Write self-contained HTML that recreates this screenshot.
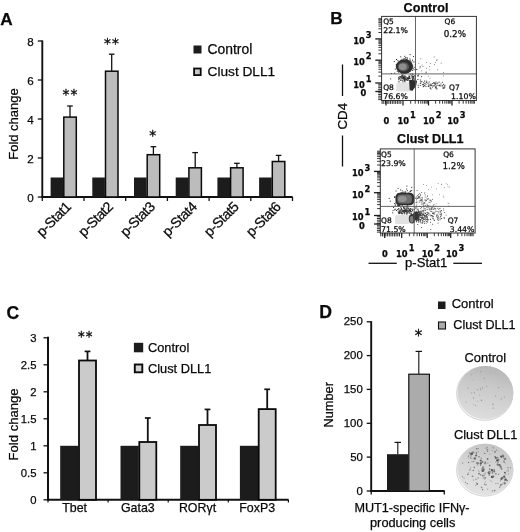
<!DOCTYPE html>
<html><head><meta charset="utf-8"><title>Figure</title>
<style>
html,body{margin:0;padding:0;background:#fff;}
body{width:520px;height:532px;overflow:hidden;}
svg{display:block;}
text{font-family:"Liberation Sans",sans-serif;fill:#0a0a0a;stroke:#0a0a0a;stroke-width:0.25px;}
.ast{font-family:"DejaVu Sans",sans-serif;stroke-width:0.3px;letter-spacing:1px;}
.dj{font-family:"DejaVu Sans",sans-serif;}
.djb{font-family:"DejaVu Sans",sans-serif;font-weight:bold;}
.b{font-weight:bold;}
</style></head><body>
<svg width="520" height="532" viewBox="0 0 520 532">
<defs>
<linearGradient id="well1" x1="0.6" y1="0" x2="0.35" y2="1">
<stop offset="0" stop-color="#b6b6b6"/><stop offset="0.35" stop-color="#c8c8c8"/><stop offset="0.7" stop-color="#d4d4d4"/><stop offset="1" stop-color="#dedede"/>
</linearGradient>
<linearGradient id="well2" x1="0.6" y1="0" x2="0.35" y2="1">
<stop offset="0" stop-color="#c4c4c4"/><stop offset="0.35" stop-color="#d2d2d2"/><stop offset="0.7" stop-color="#dcdcdc"/><stop offset="1" stop-color="#e2e2e2"/>
</linearGradient>
<filter id="bl4" x="-5%" y="-5%" width="110%" height="110%"><feGaussianBlur stdDeviation="0.4"/></filter>
<filter id="bl3" x="-5%" y="-5%" width="110%" height="110%"><feGaussianBlur stdDeviation="0.35"/></filter>
<filter id="bl" x="-20%" y="-20%" width="140%" height="140%"><feGaussianBlur stdDeviation="0.5"/></filter>
<filter id="bl2" x="-20%" y="-20%" width="140%" height="140%"><feGaussianBlur stdDeviation="1.2"/></filter>
</defs>
<rect width="520" height="532" fill="#fff"/>

<g id="panelA">
<text x="0.3" y="24.8" font-size="17.2" text-anchor="start" class="b" stroke-width="0.4">A</text>
<line x1="42.3" y1="40.4" x2="42.3" y2="197.9" stroke="#111" stroke-width="1.9"/>
<line x1="41.4" y1="197.0" x2="292.6" y2="197.0" stroke="#111" stroke-width="1.9"/>
<line x1="37.8" y1="197.0" x2="42.3" y2="197.0" stroke="#111" stroke-width="1.3"/>
<text x="33.7" y="201.6" font-size="11.6" text-anchor="end">0</text>
<line x1="37.8" y1="158.0" x2="42.3" y2="158.0" stroke="#111" stroke-width="1.3"/>
<text x="33.7" y="162.6" font-size="11.6" text-anchor="end">2</text>
<line x1="37.8" y1="119.0" x2="42.3" y2="119.0" stroke="#111" stroke-width="1.3"/>
<text x="33.7" y="123.6" font-size="11.6" text-anchor="end">4</text>
<line x1="37.8" y1="80.0" x2="42.3" y2="80.0" stroke="#111" stroke-width="1.3"/>
<text x="33.7" y="84.6" font-size="11.6" text-anchor="end">6</text>
<line x1="37.8" y1="41.0" x2="42.3" y2="41.0" stroke="#111" stroke-width="1.3"/>
<text x="33.7" y="45.6" font-size="11.6" text-anchor="end">8</text>
<line x1="42.3" y1="197.0" x2="42.3" y2="201.0" stroke="#111" stroke-width="1.3"/>
<line x1="84.0" y1="197.0" x2="84.0" y2="201.0" stroke="#111" stroke-width="1.3"/>
<line x1="125.7" y1="197.0" x2="125.7" y2="201.0" stroke="#111" stroke-width="1.3"/>
<line x1="167.4" y1="197.0" x2="167.4" y2="201.0" stroke="#111" stroke-width="1.3"/>
<line x1="209.1" y1="197.0" x2="209.1" y2="201.0" stroke="#111" stroke-width="1.3"/>
<line x1="250.8" y1="197.0" x2="250.8" y2="201.0" stroke="#111" stroke-width="1.3"/>
<line x1="292.5" y1="197.0" x2="292.5" y2="201.0" stroke="#111" stroke-width="1.3"/>
<rect x="50.6" y="177.5" width="12.6" height="19.5" fill="#1c1c1c"/>
<rect x="63.8" y="117.1" width="12.5" height="79.9" fill="#bcbcbc" stroke="#0a0a0a" stroke-width="1.5"/>
<line x1="70.0" y1="117.1" x2="70.0" y2="106.0" stroke="#111" stroke-width="1.3"/>
<line x1="67.2" y1="106.0" x2="72.8" y2="106.0" stroke="#111" stroke-width="1.3"/>
<text transform="translate(71.8,207.8) rotate(-45)" font-size="14.1" letter-spacing="-0.5" text-anchor="end" stroke-width="0.3">p-Stat1</text>
<rect x="92.3" y="177.5" width="12.6" height="19.5" fill="#1c1c1c"/>
<rect x="105.5" y="71.2" width="12.5" height="125.8" fill="#bcbcbc" stroke="#0a0a0a" stroke-width="1.5"/>
<line x1="111.7" y1="71.2" x2="111.7" y2="54.2" stroke="#111" stroke-width="1.3"/>
<line x1="108.9" y1="54.2" x2="114.5" y2="54.2" stroke="#111" stroke-width="1.3"/>
<text transform="translate(113.7,207.8) rotate(-45)" font-size="14.1" letter-spacing="-0.5" text-anchor="end" stroke-width="0.3">p-Stat2</text>
<rect x="134.0" y="177.5" width="12.6" height="19.5" fill="#1c1c1c"/>
<rect x="147.2" y="154.7" width="12.5" height="42.3" fill="#bcbcbc" stroke="#0a0a0a" stroke-width="1.5"/>
<line x1="153.4" y1="154.7" x2="153.4" y2="146.7" stroke="#111" stroke-width="1.3"/>
<line x1="150.6" y1="146.7" x2="156.2" y2="146.7" stroke="#111" stroke-width="1.3"/>
<text transform="translate(155.6,207.8) rotate(-45)" font-size="14.1" letter-spacing="-0.5" text-anchor="end" stroke-width="0.3">p-Stat3</text>
<rect x="175.7" y="177.5" width="12.6" height="19.5" fill="#1c1c1c"/>
<rect x="188.9" y="167.8" width="12.5" height="29.2" fill="#bcbcbc" stroke="#0a0a0a" stroke-width="1.5"/>
<line x1="195.2" y1="167.8" x2="195.2" y2="152.6" stroke="#111" stroke-width="1.3"/>
<line x1="192.3" y1="152.6" x2="198.0" y2="152.6" stroke="#111" stroke-width="1.3"/>
<text transform="translate(197.6,207.8) rotate(-45)" font-size="14.1" letter-spacing="-0.5" text-anchor="end" stroke-width="0.3">p-Stat4</text>
<rect x="217.4" y="177.5" width="12.6" height="19.5" fill="#1c1c1c"/>
<rect x="230.6" y="167.8" width="12.5" height="29.2" fill="#bcbcbc" stroke="#0a0a0a" stroke-width="1.5"/>
<line x1="236.9" y1="167.8" x2="236.9" y2="163.3" stroke="#111" stroke-width="1.3"/>
<line x1="234.1" y1="163.3" x2="239.7" y2="163.3" stroke="#111" stroke-width="1.3"/>
<text transform="translate(239.5,207.8) rotate(-45)" font-size="14.1" letter-spacing="-0.5" text-anchor="end" stroke-width="0.3">p-Stat5</text>
<rect x="259.1" y="177.5" width="12.6" height="19.5" fill="#1c1c1c"/>
<rect x="272.3" y="161.5" width="12.5" height="35.5" fill="#bcbcbc" stroke="#0a0a0a" stroke-width="1.5"/>
<line x1="278.6" y1="161.5" x2="278.6" y2="155.4" stroke="#111" stroke-width="1.3"/>
<line x1="275.8" y1="155.4" x2="281.4" y2="155.4" stroke="#111" stroke-width="1.3"/>
<text transform="translate(281.5,207.8) rotate(-45)" font-size="14.1" letter-spacing="-0.5" text-anchor="end" stroke-width="0.3">p-Stat6</text>
<text x="70.4" y="98.9" font-size="13.8" text-anchor="middle" class="ast">**</text>
<text x="111.9" y="48.4" font-size="13.8" text-anchor="middle" class="ast">**</text>
<text x="153.3" y="139.6" font-size="13.8" text-anchor="middle" class="ast">*</text>
<text transform="translate(18.3,124) rotate(-90)" font-size="13" text-anchor="middle">Fold change</text>
<rect x="193.5" y="45.5" width="8.0" height="8.0" fill="#1c1c1c"/>
<text x="207.5" y="54.1" font-size="13.9" text-anchor="start">Control</text>
<rect x="194.1" y="68.5" width="6.6" height="6.6" fill="#c8c8c8" stroke="#0a0a0a" stroke-width="1.8"/>
<text x="207.5" y="76.4" font-size="13.7" text-anchor="start">Clust DLL1</text>
</g>
<g id="panelC">
<text x="6.5" y="318.5" font-size="17.6" text-anchor="start" class="b" stroke-width="0.4">C</text>
<line x1="48.0" y1="336.8" x2="48.0" y2="500.8" stroke="#111" stroke-width="2.0"/>
<line x1="47.0" y1="499.8" x2="288.6" y2="499.8" stroke="#111" stroke-width="2.0"/>
<line x1="43.5" y1="499.8" x2="48.0" y2="499.8" stroke="#111" stroke-width="1.3"/>
<text x="36.5" y="503.8" font-size="11.3" text-anchor="end">0</text>
<line x1="43.5" y1="472.8" x2="48.0" y2="472.8" stroke="#111" stroke-width="1.3"/>
<text x="36.5" y="476.8" font-size="11.3" text-anchor="end">0.5</text>
<line x1="43.5" y1="445.8" x2="48.0" y2="445.8" stroke="#111" stroke-width="1.3"/>
<text x="36.5" y="449.8" font-size="11.3" text-anchor="end">1</text>
<line x1="43.5" y1="418.8" x2="48.0" y2="418.8" stroke="#111" stroke-width="1.3"/>
<text x="36.5" y="422.8" font-size="11.3" text-anchor="end">1.5</text>
<line x1="43.5" y1="391.8" x2="48.0" y2="391.8" stroke="#111" stroke-width="1.3"/>
<text x="36.5" y="395.8" font-size="11.3" text-anchor="end">2</text>
<line x1="43.5" y1="364.8" x2="48.0" y2="364.8" stroke="#111" stroke-width="1.3"/>
<text x="36.5" y="368.8" font-size="11.3" text-anchor="end">2.5</text>
<line x1="43.5" y1="337.8" x2="48.0" y2="337.8" stroke="#111" stroke-width="1.3"/>
<text x="36.5" y="341.8" font-size="11.3" text-anchor="end">3</text>
<line x1="48.0" y1="499.8" x2="48.0" y2="502.6" stroke="#111" stroke-width="1.2"/>
<line x1="108.1" y1="499.8" x2="108.1" y2="502.6" stroke="#111" stroke-width="1.2"/>
<line x1="168.2" y1="499.8" x2="168.2" y2="502.6" stroke="#111" stroke-width="1.2"/>
<line x1="228.3" y1="499.8" x2="228.3" y2="502.6" stroke="#111" stroke-width="1.2"/>
<line x1="288.4" y1="499.8" x2="288.4" y2="502.6" stroke="#111" stroke-width="1.2"/>
<rect x="60.2" y="445.8" width="18.2" height="54.0" fill="#1c1c1c"/>
<rect x="79.0" y="360.5" width="17.0" height="139.3" fill="#cbcbcb" stroke="#0a0a0a" stroke-width="1.8"/>
<line x1="87.5" y1="360.5" x2="87.5" y2="351.4" stroke="#111" stroke-width="1.8"/>
<line x1="84.6" y1="351.4" x2="90.4" y2="351.4" stroke="#111" stroke-width="1.7"/>
<text x="74.6" y="512.2" font-size="12.4" text-anchor="middle">Tbet</text>
<rect x="120.5" y="445.8" width="18.2" height="54.0" fill="#1c1c1c"/>
<rect x="139.3" y="442.0" width="17.0" height="57.8" fill="#cbcbcb" stroke="#0a0a0a" stroke-width="1.8"/>
<line x1="147.8" y1="442.0" x2="147.8" y2="418.0" stroke="#111" stroke-width="1.8"/>
<line x1="144.9" y1="418.0" x2="150.7" y2="418.0" stroke="#111" stroke-width="1.7"/>
<text x="137.8" y="512.2" font-size="12.4" text-anchor="middle">Gata3</text>
<rect x="180.2" y="445.8" width="18.2" height="54.0" fill="#1c1c1c"/>
<rect x="199.0" y="425.0" width="17.0" height="74.8" fill="#cbcbcb" stroke="#0a0a0a" stroke-width="1.8"/>
<line x1="207.5" y1="425.0" x2="207.5" y2="409.4" stroke="#111" stroke-width="1.8"/>
<line x1="204.6" y1="409.4" x2="210.4" y2="409.4" stroke="#111" stroke-width="1.7"/>
<text x="197.5" y="512.2" font-size="12.4" text-anchor="middle">RORγt</text>
<rect x="239.9" y="445.8" width="18.2" height="54.0" fill="#1c1c1c"/>
<rect x="258.7" y="409.1" width="17.0" height="90.7" fill="#cbcbcb" stroke="#0a0a0a" stroke-width="1.8"/>
<line x1="267.2" y1="409.1" x2="267.2" y2="389.3" stroke="#111" stroke-width="1.8"/>
<line x1="264.3" y1="389.3" x2="270.1" y2="389.3" stroke="#111" stroke-width="1.7"/>
<text x="257.2" y="512.2" font-size="12.4" text-anchor="middle">FoxP3</text>
<text x="85.8" y="341.4" font-size="13.4" text-anchor="middle" class="ast">**</text>
<text transform="translate(17.8,424.4) rotate(-90)" font-size="13.1" text-anchor="middle">Fold change</text>
<rect x="133.9" y="342.8" width="9.3" height="9.5" fill="#1c1c1c"/>
<text x="148.0" y="352.3" font-size="12.8" text-anchor="start">Control</text>
<rect x="134.8" y="364.5" width="7.5" height="7.8" fill="#d4d4d4" stroke="#0a0a0a" stroke-width="1.9"/>
<text x="148.0" y="373.4" font-size="12.8" text-anchor="start">Clust DLL1</text>
</g>
<g id="panelD">
<text x="319.2" y="318.3" font-size="17.6" text-anchor="start" class="b" stroke-width="0.4">D</text>
<line x1="371.2" y1="321.2" x2="371.2" y2="491.9" stroke="#111" stroke-width="1.9"/>
<line x1="370.3" y1="491.0" x2="444.7" y2="491.0" stroke="#111" stroke-width="1.9"/>
<line x1="366.7" y1="491.0" x2="371.2" y2="491.0" stroke="#111" stroke-width="1.3"/>
<text x="362.8" y="494.7" font-size="11.4" text-anchor="end">0</text>
<line x1="366.7" y1="457.1" x2="371.2" y2="457.1" stroke="#111" stroke-width="1.3"/>
<text x="362.8" y="460.8" font-size="11.4" text-anchor="end">50</text>
<line x1="366.7" y1="423.3" x2="371.2" y2="423.3" stroke="#111" stroke-width="1.3"/>
<text x="362.8" y="427.0" font-size="11.4" text-anchor="end">100</text>
<line x1="366.7" y1="389.4" x2="371.2" y2="389.4" stroke="#111" stroke-width="1.3"/>
<text x="362.8" y="393.1" font-size="11.4" text-anchor="end">150</text>
<line x1="366.7" y1="355.6" x2="371.2" y2="355.6" stroke="#111" stroke-width="1.3"/>
<text x="362.8" y="359.3" font-size="11.4" text-anchor="end">200</text>
<line x1="366.7" y1="321.8" x2="371.2" y2="321.8" stroke="#111" stroke-width="1.3"/>
<text x="362.8" y="325.4" font-size="11.4" text-anchor="end">250</text>
<line x1="444.3" y1="491.0" x2="444.3" y2="494.5" stroke="#111" stroke-width="1.3"/>
<line x1="371.2" y1="491.0" x2="371.2" y2="494.5" stroke="#111" stroke-width="1.3"/>
<rect x="387.0" y="454.2" width="21.6" height="36.8" fill="#1c1c1c"/>
<line x1="397.8" y1="454.2" x2="397.8" y2="442.4" stroke="#111" stroke-width="1.1"/>
<line x1="394.6" y1="442.4" x2="401.0" y2="442.4" stroke="#111" stroke-width="1.2"/>
<rect x="408.8" y="374.2" width="20.6" height="116.8" fill="#ababab" stroke="#111" stroke-width="1.2"/>
<line x1="418.8" y1="374.2" x2="418.8" y2="351.4" stroke="#111" stroke-width="1.1"/>
<line x1="415.6" y1="351.4" x2="422.0" y2="351.4" stroke="#111" stroke-width="1.2"/>
<text x="419.0" y="340.5" font-size="15" text-anchor="middle" class="ast" stroke-width="0.5">*</text>
<text transform="translate(333.3,404.8) rotate(-90)" font-size="12.8" text-anchor="middle">Number</text>
<rect x="438.0" y="301.5" width="7.5" height="7.5" fill="#1c1c1c"/>
<text x="451.7" y="308.3" font-size="13.0" text-anchor="start">Control</text>
<rect x="438.5" y="322.0" width="7.0" height="7.0" fill="#ababab" stroke="#111" stroke-width="1.1"/>
<text x="453.3" y="329.2" font-size="12.6" text-anchor="start">Clust DLL1</text>
<text x="485.3" y="361.5" font-size="12.85" text-anchor="middle">Control</text>
<text x="485.7" y="438.8" font-size="12.8" text-anchor="middle">Clust DLL1</text>
<text x="412.0" y="511.8" font-size="12.65" text-anchor="middle">MUT1-specific IFNγ-</text>
<text x="412.7" y="527.3" font-size="12.8" text-anchor="middle">producing cells</text>
<ellipse cx="484.8" cy="393.4" rx="28.2" ry="27.0" fill="#f7f7f7" stroke="#c2c2c2" stroke-width="0.7"/>
<ellipse cx="485.4" cy="392.6" rx="27.9" ry="26.6" fill="url(#well1)" filter="url(#bl4)"/>
<g filter="url(#bl3)">
<circle cx="481.4" cy="400.3" r="0.7" fill="#959595"/>
<circle cx="501.1" cy="399.7" r="0.6" fill="#a8a8a8"/>
<circle cx="501.3" cy="398.2" r="0.5" fill="#959595"/>
<circle cx="479.7" cy="394.9" r="0.5" fill="#a8a8a8"/>
<circle cx="466.2" cy="401.9" r="0.5" fill="#959595"/>
<circle cx="473.1" cy="379.9" r="0.5" fill="#a8a8a8"/>
<circle cx="480.9" cy="389.9" r="0.5" fill="#959595"/>
<circle cx="477.4" cy="389.6" r="0.6" fill="#959595"/>
<circle cx="468.1" cy="388.2" r="0.7" fill="#a8a8a8"/>
<circle cx="493.2" cy="408.1" r="0.7" fill="#959595"/>
<circle cx="473.3" cy="404.5" r="0.5" fill="#a8a8a8"/>
<circle cx="495.6" cy="396.2" r="0.7" fill="#a8a8a8"/>
<circle cx="473.5" cy="398.0" r="0.7" fill="#a0a0a0"/>
<circle cx="477.8" cy="401.1" r="0.5" fill="#a8a8a8"/>
<circle cx="486.8" cy="386.2" r="0.6" fill="#a8a8a8"/>
<circle cx="471.6" cy="392.9" r="0.6" fill="#a0a0a0"/>
<circle cx="480.5" cy="388.6" r="0.7" fill="#a0a0a0"/>
<circle cx="492.6" cy="403.8" r="0.6" fill="#a0a0a0"/>
<circle cx="504.4" cy="397.0" r="0.7" fill="#a8a8a8"/>
<circle cx="490.7" cy="372.7" r="0.6" fill="#a8a8a8"/>
<circle cx="475.6" cy="405.3" r="0.6" fill="#959595"/>
<circle cx="497.9" cy="374.0" r="0.6" fill="#a8a8a8"/>
<circle cx="482.5" cy="387.7" r="0.7" fill="#a0a0a0"/>
<circle cx="471.2" cy="374.6" r="0.6" fill="#a0a0a0"/>
<circle cx="480.8" cy="371.7" r="0.6" fill="#959595"/>
<circle cx="498.7" cy="387.6" r="0.7" fill="#959595"/>
<circle cx="474.4" cy="392.9" r="0.6" fill="#959595"/>
<circle cx="484.4" cy="378.3" r="0.6" fill="#959595"/>
<circle cx="493.1" cy="404.8" r="0.6" fill="#959595"/>
<circle cx="494.8" cy="373.5" r="0.6" fill="#a8a8a8"/>
</g>
<ellipse cx="484.8" cy="470.1" rx="28.2" ry="26.0" fill="#f7f7f7" stroke="#c2c2c2" stroke-width="0.7"/>
<ellipse cx="485.4" cy="469.3" rx="27.9" ry="25.6" fill="url(#well2)" filter="url(#bl4)"/>
<g filter="url(#bl3)">
<circle cx="472.5" cy="476.3" r="0.9" fill="#888"/>
<circle cx="491.7" cy="477.2" r="0.6" fill="#888"/>
<circle cx="508.4" cy="470.9" r="0.6" fill="#999"/>
<circle cx="483.6" cy="477.9" r="0.7" fill="#999"/>
<circle cx="505.5" cy="463.7" r="0.5" fill="#a0a0a0"/>
<circle cx="503.5" cy="457.3" r="0.9" fill="#a0a0a0"/>
<circle cx="479.0" cy="473.7" r="0.9" fill="#777"/>
<circle cx="494.6" cy="490.6" r="0.9" fill="#888"/>
<circle cx="500.6" cy="480.7" r="0.5" fill="#777"/>
<circle cx="468.6" cy="462.4" r="0.7" fill="#777"/>
<circle cx="495.9" cy="473.8" r="0.9" fill="#888"/>
<circle cx="469.1" cy="452.5" r="0.7" fill="#a0a0a0"/>
<circle cx="502.1" cy="484.1" r="0.9" fill="#a0a0a0"/>
<circle cx="478.2" cy="470.0" r="0.5" fill="#999"/>
<circle cx="484.4" cy="453.4" r="0.6" fill="#777"/>
<circle cx="492.3" cy="490.9" r="0.7" fill="#888"/>
<circle cx="476.6" cy="448.8" r="0.7" fill="#777"/>
<circle cx="481.2" cy="458.2" r="0.7" fill="#888"/>
<circle cx="478.2" cy="477.9" r="0.7" fill="#888"/>
<circle cx="468.6" cy="455.9" r="0.6" fill="#888"/>
<circle cx="494.5" cy="451.3" r="0.6" fill="#888"/>
<circle cx="470.6" cy="467.8" r="0.5" fill="#777"/>
<circle cx="489.8" cy="454.0" r="0.6" fill="#999"/>
<circle cx="462.4" cy="476.6" r="0.7" fill="#999"/>
<circle cx="492.5" cy="472.9" r="0.9" fill="#888"/>
<circle cx="476.3" cy="482.9" r="0.5" fill="#a0a0a0"/>
<circle cx="497.9" cy="462.0" r="0.5" fill="#777"/>
<circle cx="504.3" cy="458.4" r="0.6" fill="#a0a0a0"/>
<circle cx="498.2" cy="459.6" r="0.7" fill="#777"/>
<circle cx="493.3" cy="447.7" r="0.9" fill="#a0a0a0"/>
<circle cx="465.5" cy="482.3" r="0.6" fill="#888"/>
<circle cx="489.7" cy="469.1" r="0.9" fill="#888"/>
<circle cx="470.6" cy="457.8" r="0.9" fill="#999"/>
<circle cx="495.9" cy="483.5" r="0.5" fill="#777"/>
<circle cx="492.1" cy="450.6" r="0.5" fill="#888"/>
<circle cx="464.0" cy="478.0" r="0.6" fill="#777"/>
<circle cx="485.3" cy="481.8" r="0.6" fill="#999"/>
<circle cx="484.5" cy="484.2" r="0.6" fill="#777"/>
<circle cx="498.2" cy="462.0" r="0.9" fill="#a0a0a0"/>
<circle cx="496.5" cy="450.2" r="0.6" fill="#888"/>
<circle cx="482.1" cy="468.8" r="0.9" fill="#888"/>
<circle cx="468.3" cy="456.5" r="0.6" fill="#888"/>
<circle cx="498.0" cy="483.4" r="0.5" fill="#777"/>
<circle cx="477.2" cy="484.0" r="0.9" fill="#777"/>
<circle cx="490.0" cy="465.6" r="0.6" fill="#999"/>
<circle cx="493.1" cy="471.2" r="0.9" fill="#777"/>
<circle cx="487.0" cy="447.3" r="0.9" fill="#999"/>
<circle cx="471.9" cy="458.7" r="0.6" fill="#999"/>
<circle cx="467.9" cy="474.3" r="0.9" fill="#888"/>
<circle cx="478.1" cy="448.8" r="0.7" fill="#888"/>
<circle cx="490.5" cy="462.1" r="0.5" fill="#a0a0a0"/>
<circle cx="479.2" cy="471.5" r="0.6" fill="#a0a0a0"/>
<circle cx="504.0" cy="477.7" r="0.5" fill="#888"/>
<circle cx="504.3" cy="462.4" r="0.7" fill="#888"/>
<circle cx="485.3" cy="477.8" r="0.9" fill="#888"/>
<circle cx="485.3" cy="462.2" r="0.9" fill="#888"/>
<circle cx="508.4" cy="468.0" r="0.6" fill="#a0a0a0"/>
<circle cx="501.5" cy="468.8" r="0.9" fill="#888"/>
<circle cx="480.7" cy="474.8" r="0.7" fill="#777"/>
<circle cx="476.5" cy="482.6" r="0.5" fill="#a0a0a0"/>
<circle cx="475.7" cy="485.2" r="0.5" fill="#777"/>
<circle cx="507.8" cy="467.4" r="0.5" fill="#777"/>
<circle cx="485.0" cy="473.9" r="0.6" fill="#999"/>
<circle cx="486.3" cy="448.5" r="0.7" fill="#a0a0a0"/>
<circle cx="499.8" cy="487.1" r="0.9" fill="#999"/>
<circle cx="490.6" cy="472.2" r="0.6" fill="#a0a0a0"/>
<circle cx="495.8" cy="462.0" r="0.5" fill="#777"/>
<circle cx="487.8" cy="463.0" r="0.6" fill="#777"/>
<circle cx="484.7" cy="477.3" r="0.5" fill="#999"/>
<circle cx="501.8" cy="468.8" r="0.7" fill="#888"/>
<circle cx="505.9" cy="474.5" r="0.5" fill="#888"/>
<circle cx="484.7" cy="479.1" r="0.7" fill="#999"/>
<circle cx="474.3" cy="467.3" r="0.9" fill="#888"/>
<circle cx="482.6" cy="489.8" r="0.7" fill="#777"/>
<circle cx="507.0" cy="471.2" r="0.6" fill="#a0a0a0"/>
<circle cx="486.0" cy="484.7" r="0.9" fill="#a0a0a0"/>
<circle cx="462.7" cy="463.1" r="0.7" fill="#888"/>
<circle cx="500.2" cy="467.8" r="0.6" fill="#a0a0a0"/>
<circle cx="510.4" cy="467.8" r="0.6" fill="#777"/>
<circle cx="505.1" cy="477.8" r="0.7" fill="#a0a0a0"/>
<circle cx="489.3" cy="475.0" r="0.9" fill="#999"/>
<circle cx="468.4" cy="458.1" r="0.5" fill="#a0a0a0"/>
<circle cx="490.7" cy="480.3" r="0.5" fill="#999"/>
<circle cx="476.0" cy="479.3" r="0.7" fill="#888"/>
<circle cx="508.6" cy="473.9" r="0.6" fill="#999"/>
<circle cx="491.5" cy="481.5" r="0.5" fill="#a0a0a0"/>
<circle cx="481.8" cy="487.7" r="0.6" fill="#777"/>
<circle cx="504.7" cy="480.6" r="0.6" fill="#a0a0a0"/>
<circle cx="472.0" cy="461.8" r="0.7" fill="#999"/>
<circle cx="480.5" cy="464.4" r="0.6" fill="#a0a0a0"/>
<circle cx="487.4" cy="449.8" r="0.9" fill="#888"/>
<circle cx="481.3" cy="487.0" r="0.6" fill="#777"/>
<circle cx="495.2" cy="451.9" r="0.9" fill="#888"/>
<circle cx="504.0" cy="458.6" r="0.5" fill="#888"/>
<circle cx="489.9" cy="471.7" r="0.7" fill="#777"/>
<circle cx="473.4" cy="480.1" r="0.5" fill="#777"/>
<circle cx="470.9" cy="455.8" r="0.9" fill="#999"/>
<circle cx="508.0" cy="469.7" r="0.5" fill="#777"/>
<circle cx="485.0" cy="453.4" r="0.5" fill="#999"/>
<circle cx="487.6" cy="489.2" r="0.6" fill="#a0a0a0"/>
<circle cx="469.9" cy="469.8" r="0.9" fill="#999"/>
<circle cx="487.6" cy="451.3" r="0.6" fill="#777"/>
<circle cx="473.7" cy="461.5" r="0.7" fill="#888"/>
<circle cx="491.7" cy="469.7" r="0.7" fill="#777"/>
<circle cx="478.1" cy="451.6" r="0.7" fill="#999"/>
<circle cx="468.7" cy="472.8" r="0.5" fill="#888"/>
<circle cx="482.7" cy="475.6" r="0.9" fill="#777"/>
<circle cx="483.8" cy="475.5" r="0.9" fill="#999"/>
<circle cx="467.2" cy="483.7" r="0.6" fill="#777"/>
<circle cx="477.2" cy="465.1" r="0.7" fill="#999"/>
<circle cx="473.8" cy="452.3" r="0.7" fill="#777"/>
<circle cx="479.0" cy="456.8" r="0.7" fill="#666"/>
<circle cx="480.8" cy="463.4" r="1.1" fill="#555"/>
<circle cx="505.6" cy="479.6" r="1.2" fill="#555"/>
<circle cx="504.7" cy="483.4" r="1.1" fill="#777"/>
<circle cx="473.3" cy="470.5" r="0.7" fill="#777"/>
<circle cx="504.2" cy="476.6" r="1.1" fill="#555"/>
<circle cx="476.1" cy="455.5" r="1.1" fill="#666"/>
<circle cx="498.6" cy="474.2" r="0.7" fill="#888"/>
<circle cx="507.1" cy="480.7" r="0.7" fill="#555"/>
<circle cx="500.8" cy="484.9" r="0.9" fill="#777"/>
<circle cx="489.6" cy="465.5" r="0.9" fill="#888"/>
<circle cx="483.1" cy="467.4" r="1.1" fill="#888"/>
<circle cx="492.0" cy="476.9" r="1.2" fill="#555"/>
<circle cx="474.8" cy="458.4" r="1.2" fill="#666"/>
<circle cx="482.6" cy="470.8" r="1.2" fill="#666"/>
<circle cx="489.0" cy="471.5" r="0.7" fill="#777"/>
<circle cx="476.4" cy="463.0" r="0.7" fill="#888"/>
<circle cx="482.3" cy="462.0" r="1.1" fill="#777"/>
<circle cx="493.2" cy="476.6" r="1.1" fill="#666"/>
<circle cx="489.3" cy="473.4" r="0.9" fill="#555"/>
<circle cx="477.9" cy="463.2" r="1.2" fill="#888"/>
<circle cx="472.5" cy="452.7" r="1.2" fill="#888"/>
<circle cx="505.0" cy="472.7" r="0.9" fill="#555"/>
<circle cx="480.6" cy="465.2" r="0.7" fill="#888"/>
<circle cx="470.4" cy="453.7" r="0.9" fill="#666"/>
<circle cx="494.4" cy="471.5" r="0.9" fill="#777"/>
<circle cx="483.4" cy="470.9" r="0.7" fill="#555"/>
<circle cx="480.8" cy="460.5" r="1.1" fill="#666"/>
<circle cx="502.3" cy="477.9" r="1.2" fill="#777"/>
<circle cx="501.5" cy="478.7" r="1.2" fill="#666"/>
<circle cx="491.9" cy="470.2" r="1.1" fill="#555"/>
<circle cx="483.6" cy="469.7" r="1.1" fill="#666"/>
<circle cx="485.1" cy="463.3" r="1.1" fill="#888"/>
<circle cx="476.4" cy="453.0" r="0.7" fill="#666"/>
<circle cx="488.4" cy="472.7" r="0.9" fill="#666"/>
<circle cx="485.0" cy="473.1" r="0.7" fill="#888"/>
<circle cx="494.2" cy="469.7" r="0.7" fill="#666"/>
<circle cx="504.5" cy="482.6" r="0.9" fill="#888"/>
<circle cx="471.9" cy="453.9" r="1.1" fill="#555"/>
<circle cx="498.5" cy="459.8" r="1.1" fill="#777"/>
<circle cx="495.8" cy="457.9" r="1.1" fill="#666"/>
<circle cx="497.8" cy="457.8" r="0.7" fill="#666"/>
<circle cx="504.6" cy="459.5" r="0.7" fill="#777"/>
<circle cx="503.3" cy="456.2" r="0.9" fill="#666"/>
<circle cx="505.4" cy="458.7" r="0.9" fill="#777"/>
<circle cx="502.9" cy="455.4" r="0.9" fill="#777"/>
<circle cx="501.0" cy="456.3" r="0.9" fill="#555"/>
<circle cx="501.3" cy="457.3" r="0.7" fill="#555"/>
<circle cx="499.6" cy="465.3" r="1.1" fill="#666"/>
<circle cx="497.1" cy="460.4" r="1.1" fill="#555"/>
<circle cx="499.4" cy="464.9" r="0.9" fill="#666"/>
<circle cx="497.7" cy="464.6" r="1.1" fill="#777"/>
<circle cx="501.7" cy="456.4" r="0.7" fill="#555"/>
<circle cx="487.6" cy="458.9" r="0.9" fill="#666"/>
<circle cx="503.9" cy="461.3" r="0.7" fill="#777"/>
<circle cx="497.5" cy="464.2" r="0.7" fill="#777"/>
<circle cx="500.9" cy="466.9" r="0.9" fill="#666"/>
<circle cx="495.0" cy="456.6" r="0.7" fill="#555"/>
</g>
</g>
<g id="panelB">
<text x="330.2" y="24.1" font-size="17.2" text-anchor="start" class="b" stroke-width="0.4">B</text>
<text x="426.0" y="12.1" font-size="12.6" text-anchor="middle" class="b">Control</text>
<text x="430.3" y="143.3" font-size="12.6" text-anchor="middle" class="b">Clust DLL1</text>
<text transform="translate(346.6,116.2) rotate(-90)" font-size="13.3" text-anchor="middle">CD4</text>
<line x1="342.5" y1="64.5" x2="342.5" y2="96.0" stroke="#111" stroke-width="1.3"/>
<line x1="342.5" y1="135.5" x2="342.5" y2="166.5" stroke="#111" stroke-width="1.3"/>
<text x="426.2" y="266.8" font-size="13.1" text-anchor="middle">p-Stat1</text>
<line x1="368.5" y1="263.3" x2="396.8" y2="263.3" stroke="#111" stroke-width="1.3"/>
<line x1="453.3" y1="263.3" x2="482.0" y2="263.3" stroke="#111" stroke-width="1.3"/>
<g transform="translate(0,0)">
<rect x="398.2" y="69.9" width="1.0" height="1.0" fill="#2a2a2a"/>
<rect x="398.0" y="66.7" width="1.0" height="1.0" fill="#2a2a2a"/>
<rect x="407.4" y="70.4" width="1.0" height="1.0" fill="#2a2a2a"/>
<rect x="406.1" y="67.2" width="1.0" height="1.0" fill="#2a2a2a"/>
<rect x="402.0" y="63.6" width="1.0" height="1.0" fill="#2a2a2a"/>
<rect x="390.8" y="73.0" width="1.0" height="1.0" fill="#2a2a2a"/>
<rect x="407.7" y="65.5" width="1.0" height="1.0" fill="#2a2a2a"/>
<rect x="408.4" y="70.0" width="1.0" height="1.0" fill="#2a2a2a"/>
<rect x="407.5" y="63.7" width="1.0" height="1.0" fill="#2a2a2a"/>
<rect x="395.8" y="64.0" width="1.0" height="1.0" fill="#2a2a2a"/>
<rect x="405.0" y="57.5" width="1.0" height="1.0" fill="#2a2a2a"/>
<rect x="403.4" y="69.8" width="1.0" height="1.0" fill="#2a2a2a"/>
<rect x="404.1" y="69.7" width="1.0" height="1.0" fill="#2a2a2a"/>
<rect x="404.1" y="71.3" width="1.0" height="1.0" fill="#2a2a2a"/>
<rect x="406.0" y="69.3" width="1.0" height="1.0" fill="#2a2a2a"/>
<rect x="402.3" y="76.5" width="1.0" height="1.0" fill="#2a2a2a"/>
<rect x="405.2" y="67.7" width="1.0" height="1.0" fill="#2a2a2a"/>
<rect x="404.5" y="69.7" width="1.0" height="1.0" fill="#2a2a2a"/>
<rect x="397.1" y="64.8" width="1.0" height="1.0" fill="#2a2a2a"/>
<rect x="409.2" y="69.2" width="1.0" height="1.0" fill="#2a2a2a"/>
<rect x="405.0" y="66.1" width="1.0" height="1.0" fill="#2a2a2a"/>
<rect x="407.3" y="63.6" width="1.0" height="1.0" fill="#2a2a2a"/>
<rect x="399.7" y="67.5" width="1.0" height="1.0" fill="#2a2a2a"/>
<rect x="407.2" y="63.5" width="1.0" height="1.0" fill="#2a2a2a"/>
<rect x="411.2" y="68.1" width="1.0" height="1.0" fill="#2a2a2a"/>
<rect x="406.1" y="63.2" width="1.0" height="1.0" fill="#2a2a2a"/>
<rect x="410.1" y="68.7" width="1.0" height="1.0" fill="#2a2a2a"/>
<rect x="407.6" y="72.0" width="1.0" height="1.0" fill="#2a2a2a"/>
<rect x="405.7" y="58.8" width="1.0" height="1.0" fill="#2a2a2a"/>
<rect x="411.9" y="66.3" width="1.0" height="1.0" fill="#2a2a2a"/>
<rect x="403.3" y="61.6" width="1.0" height="1.0" fill="#2a2a2a"/>
<rect x="409.1" y="67.0" width="1.0" height="1.0" fill="#2a2a2a"/>
<rect x="425.7" y="71.7" width="1.0" height="1.0" fill="#2a2a2a"/>
<rect x="412.7" y="67.9" width="1.0" height="1.0" fill="#2a2a2a"/>
<rect x="412.7" y="61.4" width="1.0" height="1.0" fill="#2a2a2a"/>
<rect x="406.7" y="61.4" width="1.0" height="1.0" fill="#2a2a2a"/>
<rect x="399.5" y="70.9" width="1.0" height="1.0" fill="#2a2a2a"/>
<rect x="405.7" y="66.6" width="1.0" height="1.0" fill="#2a2a2a"/>
<rect x="398.5" y="66.2" width="1.0" height="1.0" fill="#2a2a2a"/>
<rect x="396.7" y="70.8" width="1.0" height="1.0" fill="#2a2a2a"/>
<rect x="403.0" y="63.6" width="1.0" height="1.0" fill="#2a2a2a"/>
<rect x="397.1" y="64.5" width="1.0" height="1.0" fill="#2a2a2a"/>
<rect x="401.2" y="68.3" width="1.0" height="1.0" fill="#2a2a2a"/>
<rect x="412.2" y="65.5" width="1.0" height="1.0" fill="#2a2a2a"/>
<rect x="403.0" y="66.8" width="1.0" height="1.0" fill="#2a2a2a"/>
<rect x="404.2" y="55.8" width="1.0" height="1.0" fill="#2a2a2a"/>
<rect x="403.6" y="66.5" width="1.0" height="1.0" fill="#2a2a2a"/>
<rect x="405.5" y="57.2" width="1.0" height="1.0" fill="#2a2a2a"/>
<rect x="401.3" y="62.2" width="1.0" height="1.0" fill="#2a2a2a"/>
<rect x="394.2" y="72.6" width="1.0" height="1.0" fill="#2a2a2a"/>
<rect x="401.7" y="67.1" width="1.0" height="1.0" fill="#2a2a2a"/>
<rect x="406.2" y="67.4" width="1.0" height="1.0" fill="#2a2a2a"/>
<rect x="400.1" y="63.8" width="1.0" height="1.0" fill="#2a2a2a"/>
<rect x="404.9" y="63.4" width="1.0" height="1.0" fill="#2a2a2a"/>
<rect x="407.2" y="66.9" width="1.0" height="1.0" fill="#2a2a2a"/>
<rect x="406.3" y="61.4" width="1.0" height="1.0" fill="#2a2a2a"/>
<rect x="393.8" y="61.0" width="1.0" height="1.0" fill="#2a2a2a"/>
<rect x="404.2" y="63.0" width="1.0" height="1.0" fill="#2a2a2a"/>
<rect x="402.7" y="68.4" width="1.0" height="1.0" fill="#2a2a2a"/>
<rect x="405.4" y="67.6" width="1.0" height="1.0" fill="#2a2a2a"/>
<rect x="398.0" y="71.5" width="1.0" height="1.0" fill="#2a2a2a"/>
<rect x="407.0" y="57.5" width="1.0" height="1.0" fill="#2a2a2a"/>
<rect x="401.3" y="74.9" width="1.0" height="1.0" fill="#2a2a2a"/>
<rect x="415.6" y="68.9" width="1.0" height="1.0" fill="#2a2a2a"/>
<rect x="401.7" y="72.2" width="1.0" height="1.0" fill="#2a2a2a"/>
<rect x="403.1" y="64.4" width="1.0" height="1.0" fill="#2a2a2a"/>
<rect x="402.6" y="58.7" width="1.0" height="1.0" fill="#2a2a2a"/>
<rect x="410.3" y="61.6" width="1.0" height="1.0" fill="#2a2a2a"/>
<rect x="409.0" y="60.6" width="1.0" height="1.0" fill="#2a2a2a"/>
<rect x="401.9" y="63.9" width="1.0" height="1.0" fill="#2a2a2a"/>
<rect x="397.9" y="67.1" width="1.0" height="1.0" fill="#2a2a2a"/>
<rect x="416.4" y="69.0" width="1.0" height="1.0" fill="#2a2a2a"/>
<rect x="407.2" y="69.8" width="1.0" height="1.0" fill="#2a2a2a"/>
<rect x="412.7" y="76.5" width="1.0" height="1.0" fill="#2a2a2a"/>
<rect x="405.9" y="63.1" width="1.0" height="1.0" fill="#2a2a2a"/>
<rect x="412.0" y="59.7" width="1.0" height="1.0" fill="#2a2a2a"/>
<rect x="400.9" y="59.6" width="1.0" height="1.0" fill="#2a2a2a"/>
<rect x="402.2" y="70.4" width="1.0" height="1.0" fill="#2a2a2a"/>
<rect x="394.8" y="68.6" width="1.0" height="1.0" fill="#2a2a2a"/>
<rect x="405.8" y="59.0" width="1.0" height="1.0" fill="#2a2a2a"/>
<rect x="403.1" y="69.5" width="1.0" height="1.0" fill="#2a2a2a"/>
<rect x="400.7" y="69.0" width="1.0" height="1.0" fill="#2a2a2a"/>
<rect x="401.2" y="65.9" width="1.0" height="1.0" fill="#2a2a2a"/>
<rect x="419.7" y="66.3" width="1.0" height="1.0" fill="#2a2a2a"/>
<rect x="399.0" y="67.2" width="1.0" height="1.0" fill="#2a2a2a"/>
<rect x="397.4" y="59.9" width="1.0" height="1.0" fill="#2a2a2a"/>
<rect x="409.4" y="58.4" width="1.0" height="1.0" fill="#2a2a2a"/>
<rect x="402.9" y="67.1" width="1.0" height="1.0" fill="#2a2a2a"/>
<rect x="401.4" y="69.6" width="1.0" height="1.0" fill="#2a2a2a"/>
<rect x="406.5" y="60.5" width="1.0" height="1.0" fill="#2a2a2a"/>
<rect x="403.7" y="64.8" width="1.0" height="1.0" fill="#2a2a2a"/>
<rect x="412.5" y="74.1" width="1.0" height="1.0" fill="#2a2a2a"/>
<rect x="401.3" y="73.2" width="1.0" height="1.0" fill="#2a2a2a"/>
<rect x="412.1" y="69.9" width="1.0" height="1.0" fill="#2a2a2a"/>
<rect x="410.5" y="61.6" width="1.0" height="1.0" fill="#2a2a2a"/>
<rect x="404.8" y="64.9" width="1.0" height="1.0" fill="#2a2a2a"/>
<rect x="411.1" y="68.7" width="1.0" height="1.0" fill="#2a2a2a"/>
<rect x="403.6" y="63.8" width="1.0" height="1.0" fill="#2a2a2a"/>
<rect x="411.8" y="73.5" width="1.0" height="1.0" fill="#2a2a2a"/>
<rect x="402.3" y="74.7" width="1.0" height="1.0" fill="#2a2a2a"/>
<rect x="406.7" y="58.8" width="1.0" height="1.0" fill="#2a2a2a"/>
<rect x="403.8" y="62.6" width="1.0" height="1.0" fill="#2a2a2a"/>
<rect x="408.1" y="60.2" width="1.0" height="1.0" fill="#2a2a2a"/>
<rect x="404.4" y="70.3" width="1.0" height="1.0" fill="#2a2a2a"/>
<rect x="396.0" y="59.0" width="1.0" height="1.0" fill="#2a2a2a"/>
<rect x="400.7" y="67.0" width="1.0" height="1.0" fill="#2a2a2a"/>
<rect x="410.3" y="64.8" width="1.0" height="1.0" fill="#2a2a2a"/>
<rect x="398.5" y="62.3" width="1.0" height="1.0" fill="#2a2a2a"/>
<rect x="404.9" y="70.7" width="1.0" height="1.0" fill="#2a2a2a"/>
<rect x="406.2" y="70.7" width="1.0" height="1.0" fill="#2a2a2a"/>
<rect x="401.8" y="63.0" width="1.0" height="1.0" fill="#2a2a2a"/>
<rect x="402.1" y="70.2" width="1.0" height="1.0" fill="#2a2a2a"/>
<rect x="405.6" y="62.3" width="1.0" height="1.0" fill="#2a2a2a"/>
<rect x="404.7" y="64.5" width="1.0" height="1.0" fill="#2a2a2a"/>
<rect x="413.0" y="56.1" width="1.0" height="1.0" fill="#2a2a2a"/>
<rect x="398.5" y="67.7" width="1.0" height="1.0" fill="#2a2a2a"/>
<rect x="400.3" y="56.3" width="1.0" height="1.0" fill="#2a2a2a"/>
<rect x="404.4" y="72.1" width="1.0" height="1.0" fill="#2a2a2a"/>
<rect x="409.8" y="59.7" width="1.0" height="1.0" fill="#2a2a2a"/>
<rect x="401.0" y="69.4" width="1.0" height="1.0" fill="#2a2a2a"/>
<rect x="402.5" y="68.0" width="1.0" height="1.0" fill="#2a2a2a"/>
<rect x="403.5" y="67.8" width="1.0" height="1.0" fill="#2a2a2a"/>
<rect x="405.4" y="72.7" width="1.0" height="1.0" fill="#2a2a2a"/>
<rect x="408.7" y="64.9" width="1.0" height="1.0" fill="#2a2a2a"/>
<rect x="400.0" y="65.6" width="1.0" height="1.0" fill="#2a2a2a"/>
<rect x="414.8" y="63.9" width="1.0" height="1.0" fill="#2a2a2a"/>
<rect x="414.5" y="61.5" width="1.0" height="1.0" fill="#2a2a2a"/>
<rect x="403.6" y="57.9" width="1.0" height="1.0" fill="#2a2a2a"/>
<rect x="405.3" y="70.0" width="1.0" height="1.0" fill="#2a2a2a"/>
<rect x="400.7" y="62.4" width="1.0" height="1.0" fill="#2a2a2a"/>
<rect x="403.4" y="67.2" width="1.0" height="1.0" fill="#2a2a2a"/>
<rect x="397.4" y="66.5" width="1.0" height="1.0" fill="#2a2a2a"/>
<rect x="406.2" y="66.5" width="1.0" height="1.0" fill="#2a2a2a"/>
<rect x="400.5" y="64.3" width="1.0" height="1.0" fill="#2a2a2a"/>
<rect x="398.1" y="65.1" width="1.0" height="1.0" fill="#2a2a2a"/>
<rect x="400.7" y="68.2" width="1.0" height="1.0" fill="#2a2a2a"/>
<rect x="407.8" y="69.5" width="1.0" height="1.0" fill="#2a2a2a"/>
<rect x="405.9" y="63.5" width="1.0" height="1.0" fill="#2a2a2a"/>
<rect x="413.8" y="66.8" width="1.0" height="1.0" fill="#2a2a2a"/>
<rect x="403.0" y="60.8" width="1.0" height="1.0" fill="#2a2a2a"/>
<rect x="407.2" y="67.1" width="1.0" height="1.0" fill="#2a2a2a"/>
<rect x="402.4" y="62.6" width="1.0" height="1.0" fill="#2a2a2a"/>
<rect x="409.6" y="54.1" width="1.0" height="1.0" fill="#2a2a2a"/>
<rect x="413.6" y="69.1" width="1.0" height="1.0" fill="#2a2a2a"/>
<rect x="410.0" y="61.9" width="1.0" height="1.0" fill="#2a2a2a"/>
<rect x="398.3" y="62.9" width="1.0" height="1.0" fill="#2a2a2a"/>
<rect x="398.5" y="65.4" width="1.0" height="1.0" fill="#2a2a2a"/>
<rect x="404.6" y="66.1" width="1.0" height="1.0" fill="#2a2a2a"/>
<rect x="405.6" y="66.4" width="1.0" height="1.0" fill="#2a2a2a"/>
<rect x="405.7" y="68.7" width="1.0" height="1.0" fill="#2a2a2a"/>
<rect x="407.5" y="77.5" width="1.0" height="1.0" fill="#2e2e2e"/>
<rect x="399.9" y="76.1" width="1.0" height="1.0" fill="#2e2e2e"/>
<rect x="407.2" y="80.0" width="1.0" height="1.0" fill="#2e2e2e"/>
<rect x="398.4" y="77.7" width="1.0" height="1.0" fill="#2e2e2e"/>
<rect x="402.4" y="76.3" width="1.0" height="1.0" fill="#2e2e2e"/>
<rect x="401.0" y="76.4" width="1.0" height="1.0" fill="#2e2e2e"/>
<rect x="412.0" y="79.1" width="1.0" height="1.0" fill="#2e2e2e"/>
<rect x="413.5" y="77.9" width="1.0" height="1.0" fill="#2e2e2e"/>
<rect x="399.3" y="78.3" width="1.0" height="1.0" fill="#2e2e2e"/>
<rect x="401.7" y="79.5" width="1.0" height="1.0" fill="#2e2e2e"/>
<rect x="407.2" y="77.6" width="1.0" height="1.0" fill="#2e2e2e"/>
<rect x="403.8" y="77.0" width="1.0" height="1.0" fill="#2e2e2e"/>
<rect x="409.4" y="78.0" width="1.0" height="1.0" fill="#2e2e2e"/>
<rect x="403.9" y="77.2" width="1.0" height="1.0" fill="#2e2e2e"/>
<rect x="414.3" y="75.1" width="1.0" height="1.0" fill="#2e2e2e"/>
<rect x="409.2" y="77.5" width="1.0" height="1.0" fill="#2e2e2e"/>
<rect x="412.2" y="78.9" width="1.0" height="1.0" fill="#2e2e2e"/>
<rect x="402.2" y="75.3" width="1.0" height="1.0" fill="#2e2e2e"/>
<rect x="417.1" y="75.3" width="1.0" height="1.0" fill="#2e2e2e"/>
<rect x="402.3" y="82.4" width="1.0" height="1.0" fill="#2e2e2e"/>
<rect x="407.2" y="77.5" width="1.0" height="1.0" fill="#2e2e2e"/>
<rect x="402.5" y="77.9" width="1.0" height="1.0" fill="#2e2e2e"/>
<rect x="413.4" y="75.8" width="1.0" height="1.0" fill="#2e2e2e"/>
<rect x="406.4" y="79.1" width="1.0" height="1.0" fill="#2e2e2e"/>
<rect x="408.3" y="77.3" width="1.0" height="1.0" fill="#2e2e2e"/>
<rect x="400.3" y="79.7" width="1.0" height="1.0" fill="#2e2e2e"/>
<rect x="398.4" y="80.7" width="1.0" height="1.0" fill="#2e2e2e"/>
<rect x="418.0" y="75.3" width="1.0" height="1.0" fill="#2e2e2e"/>
<rect x="408.9" y="75.9" width="1.0" height="1.0" fill="#2e2e2e"/>
<rect x="399.4" y="78.4" width="1.0" height="1.0" fill="#2e2e2e"/>
<rect x="406.7" y="78.0" width="1.0" height="1.0" fill="#2e2e2e"/>
<rect x="409.0" y="77.6" width="1.0" height="1.0" fill="#2e2e2e"/>
<rect x="412.1" y="75.7" width="1.0" height="1.0" fill="#2e2e2e"/>
<rect x="400.3" y="79.7" width="1.0" height="1.0" fill="#2e2e2e"/>
<rect x="402.7" y="77.5" width="1.0" height="1.0" fill="#2e2e2e"/>
<rect x="407.9" y="78.2" width="1.0" height="1.0" fill="#2e2e2e"/>
<rect x="403.4" y="77.2" width="1.0" height="1.0" fill="#2e2e2e"/>
<rect x="413.2" y="77.6" width="1.0" height="1.0" fill="#2e2e2e"/>
<rect x="408.2" y="78.2" width="1.0" height="1.0" fill="#2e2e2e"/>
<rect x="404.6" y="77.5" width="1.0" height="1.0" fill="#2e2e2e"/>
<rect x="406.9" y="78.3" width="1.0" height="1.0" fill="#2e2e2e"/>
<rect x="410.8" y="75.3" width="1.0" height="1.0" fill="#2e2e2e"/>
<rect x="409.4" y="82.7" width="1.0" height="1.0" fill="#2e2e2e"/>
<rect x="398.3" y="77.4" width="1.0" height="1.0" fill="#2e2e2e"/>
<rect x="411.6" y="75.7" width="1.0" height="1.0" fill="#2e2e2e"/>
<rect x="404.3" y="76.1" width="1.0" height="1.0" fill="#2e2e2e"/>
<rect x="405.6" y="79.3" width="1.0" height="1.0" fill="#2e2e2e"/>
<rect x="417.4" y="79.0" width="1.0" height="1.0" fill="#2e2e2e"/>
<rect x="412.6" y="76.2" width="1.0" height="1.0" fill="#2e2e2e"/>
<rect x="412.6" y="79.7" width="1.0" height="1.0" fill="#2e2e2e"/>
<rect x="401.7" y="76.3" width="1.0" height="1.0" fill="#2e2e2e"/>
<rect x="411.5" y="80.6" width="1.0" height="1.0" fill="#2e2e2e"/>
<rect x="403.0" y="76.7" width="1.0" height="1.0" fill="#2e2e2e"/>
<rect x="403.5" y="79.3" width="1.0" height="1.0" fill="#2e2e2e"/>
<rect x="398.7" y="81.7" width="1.0" height="1.0" fill="#2e2e2e"/>
<rect x="413.6" y="79.0" width="1.0" height="1.0" fill="#2e2e2e"/>
<rect x="412.7" y="76.2" width="1.0" height="1.0" fill="#2e2e2e"/>
<rect x="400.9" y="76.6" width="1.0" height="1.0" fill="#2e2e2e"/>
<rect x="403.6" y="81.2" width="1.0" height="1.0" fill="#2e2e2e"/>
<rect x="405.8" y="77.5" width="1.0" height="1.0" fill="#2e2e2e"/>
<rect x="403.2" y="77.9" width="1.0" height="1.0" fill="#2e2e2e"/>
<rect x="404.0" y="78.1" width="1.0" height="1.0" fill="#2e2e2e"/>
<rect x="398.3" y="76.7" width="1.0" height="1.0" fill="#2e2e2e"/>
<rect x="408.6" y="75.7" width="1.0" height="1.0" fill="#2e2e2e"/>
<rect x="404.3" y="80.1" width="1.0" height="1.0" fill="#2e2e2e"/>
<rect x="401.4" y="77.8" width="1.0" height="1.0" fill="#2e2e2e"/>
<rect x="405.5" y="77.3" width="1.0" height="1.0" fill="#2e2e2e"/>
<rect x="404.2" y="78.7" width="1.0" height="1.0" fill="#2e2e2e"/>
<rect x="402.3" y="74.5" width="1.0" height="1.0" fill="#2e2e2e"/>
<rect x="412.1" y="77.5" width="1.0" height="1.0" fill="#2e2e2e"/>
<rect x="411.3" y="77.4" width="1.0" height="1.0" fill="#2e2e2e"/>
<rect x="402.9" y="77.4" width="1.0" height="1.0" fill="#2e2e2e"/>
<rect x="410.2" y="73.7" width="1.0" height="1.0" fill="#2e2e2e"/>
<rect x="405.8" y="79.2" width="1.0" height="1.0" fill="#2e2e2e"/>
<rect x="413.4" y="76.7" width="1.0" height="1.0" fill="#2e2e2e"/>
<rect x="390.2" y="78.4" width="1.0" height="1.0" fill="#2e2e2e"/>
<rect x="403.3" y="77.6" width="1.0" height="1.0" fill="#2e2e2e"/>
<rect x="404.5" y="78.8" width="1.0" height="1.0" fill="#2e2e2e"/>
<rect x="415.0" y="76.2" width="1.0" height="1.0" fill="#2e2e2e"/>
<rect x="405.3" y="75.9" width="1.0" height="1.0" fill="#2e2e2e"/>
<rect x="402.6" y="76.5" width="1.0" height="1.0" fill="#2e2e2e"/>
<rect x="403.8" y="80.0" width="1.0" height="1.0" fill="#2e2e2e"/>
<rect x="402.6" y="77.7" width="1.0" height="1.0" fill="#2e2e2e"/>
<rect x="412.5" y="77.7" width="1.0" height="1.0" fill="#2e2e2e"/>
<rect x="407.9" y="77.6" width="1.0" height="1.0" fill="#2e2e2e"/>
<rect x="399.2" y="76.3" width="1.0" height="1.0" fill="#2e2e2e"/>
<rect x="404.5" y="77.7" width="1.0" height="1.0" fill="#2e2e2e"/>
<rect x="400.2" y="76.8" width="1.0" height="1.0" fill="#2e2e2e"/>
<rect x="409.2" y="76.4" width="1.0" height="1.0" fill="#2e2e2e"/>
<rect x="401.3" y="77.4" width="1.0" height="1.0" fill="#2e2e2e"/>
<rect x="398.1" y="78.7" width="1.0" height="1.0" fill="#2e2e2e"/>
<rect x="405.3" y="79.4" width="1.0" height="1.0" fill="#2e2e2e"/>
<rect x="401.9" y="80.5" width="1.0" height="1.0" fill="#2e2e2e"/>
<rect x="403.5" y="75.8" width="1.0" height="1.0" fill="#2e2e2e"/>
<rect x="404.6" y="81.3" width="1.0" height="1.0" fill="#2e2e2e"/>
<rect x="408.7" y="75.5" width="1.0" height="1.0" fill="#2e2e2e"/>
<rect x="403.2" y="72.7" width="1.0" height="1.0" fill="#2e2e2e"/>
<rect x="404.4" y="75.3" width="1.0" height="1.0" fill="#2e2e2e"/>
<rect x="403.4" y="79.2" width="1.0" height="1.0" fill="#2e2e2e"/>
<rect x="409.2" y="77.6" width="1.0" height="1.0" fill="#2e2e2e"/>
<rect x="421.1" y="76.2" width="1.0" height="1.0" fill="#2e2e2e"/>
<rect x="409.2" y="80.5" width="1.0" height="1.0" fill="#2e2e2e"/>
<rect x="406.5" y="79.1" width="1.0" height="1.0" fill="#2e2e2e"/>
<rect x="408.0" y="79.4" width="1.0" height="1.0" fill="#2e2e2e"/>
<rect x="404.3" y="79.5" width="1.0" height="1.0" fill="#2e2e2e"/>
<rect x="414.0" y="80.8" width="1.0" height="1.0" fill="#2e2e2e"/>
<rect x="403.5" y="82.1" width="1.0" height="1.0" fill="#2e2e2e"/>
<rect x="404.7" y="78.1" width="1.0" height="1.0" fill="#2e2e2e"/>
<rect x="408.8" y="76.3" width="1.0" height="1.0" fill="#2e2e2e"/>
<rect x="407.9" y="83.5" width="1.0" height="1.0" fill="#2e2e2e"/>
<g filter="url(#bl)">
<ellipse cx="404.4" cy="66.6" rx="8.6" ry="7.3" fill="#2e2e2e"/>
<ellipse cx="403.4" cy="66.8" rx="5.6" ry="4.6" fill="#5c5c5c"/>
<ellipse cx="402.8" cy="66.8" rx="3.9" ry="3.2" fill="#8e8e8e"/>
<rect x="396.4" y="82.2" width="14.5" height="9.2" rx="1.5" fill="#e2e2e2"/>
<path d="M409.8 80.4 L416.4 81.2 L415.6 85.5 L412.2 90.2 L410.2 89.6 Z" fill="#2e2e2e" stroke="#2e2e2e" stroke-width="1.2" stroke-linejoin="round"/>
</g>
<g>
<rect x="425.5" y="86.1" width="1.0" height="1.0" fill="#3a3a3a"/>
<rect x="437.4" y="84.8" width="1.0" height="1.0" fill="#3a3a3a"/>
<rect x="417.6" y="84.8" width="1.0" height="1.0" fill="#3a3a3a"/>
<rect x="436.4" y="88.5" width="1.0" height="1.0" fill="#3a3a3a"/>
<rect x="433.4" y="82.3" width="1.0" height="1.0" fill="#3a3a3a"/>
<rect x="435.5" y="81.5" width="1.0" height="1.0" fill="#3a3a3a"/>
<rect x="435.1" y="86.7" width="1.0" height="1.0" fill="#3a3a3a"/>
<rect x="433.3" y="82.6" width="1.0" height="1.0" fill="#3a3a3a"/>
<rect x="423.7" y="85.0" width="1.0" height="1.0" fill="#3a3a3a"/>
<rect x="429.2" y="85.5" width="1.0" height="1.0" fill="#3a3a3a"/>
<rect x="424.5" y="83.3" width="1.0" height="1.0" fill="#3a3a3a"/>
<rect x="424.0" y="80.6" width="1.0" height="1.0" fill="#3a3a3a"/>
<rect x="428.3" y="84.3" width="1.0" height="1.0" fill="#3a3a3a"/>
<rect x="440.4" y="83.5" width="1.0" height="1.0" fill="#3a3a3a"/>
<rect x="430.5" y="88.5" width="1.0" height="1.0" fill="#3a3a3a"/>
<rect x="431.5" y="85.1" width="1.0" height="1.0" fill="#3a3a3a"/>
<rect x="435.3" y="87.6" width="1.0" height="1.0" fill="#3a3a3a"/>
<rect x="426.4" y="81.6" width="1.0" height="1.0" fill="#3a3a3a"/>
<rect x="417.8" y="86.8" width="1.0" height="1.0" fill="#3a3a3a"/>
<rect x="420.4" y="80.8" width="1.0" height="1.0" fill="#3a3a3a"/>
<rect x="424.3" y="85.2" width="1.0" height="1.0" fill="#3a3a3a"/>
<rect x="443.2" y="87.7" width="1.0" height="1.0" fill="#3a3a3a"/>
<rect x="422.9" y="82.4" width="1.0" height="1.0" fill="#3a3a3a"/>
<rect x="429.8" y="87.8" width="1.0" height="1.0" fill="#3a3a3a"/>
<rect x="423.0" y="84.2" width="1.0" height="1.0" fill="#3a3a3a"/>
<rect x="438.9" y="84.7" width="1.0" height="1.0" fill="#3a3a3a"/>
<rect x="427.5" y="82.8" width="1.0" height="1.0" fill="#3a3a3a"/>
<rect x="429.8" y="87.3" width="1.0" height="1.0" fill="#3a3a3a"/>
<rect x="444.2" y="85.6" width="1.0" height="1.0" fill="#3a3a3a"/>
<rect x="442.7" y="86.8" width="1.0" height="1.0" fill="#3a3a3a"/>
<rect x="437.2" y="82.5" width="1.0" height="1.0" fill="#3a3a3a"/>
<rect x="424.3" y="82.7" width="1.0" height="1.0" fill="#3a3a3a"/>
<rect x="427.8" y="85.3" width="1.0" height="1.0" fill="#3a3a3a"/>
<rect x="442.2" y="84.9" width="1.0" height="1.0" fill="#3a3a3a"/>
<rect x="434.5" y="83.4" width="1.0" height="1.0" fill="#3a3a3a"/>
<rect x="420.4" y="82.3" width="1.0" height="1.0" fill="#3a3a3a"/>
<rect x="425.7" y="80.6" width="1.0" height="1.0" fill="#3a3a3a"/>
<rect x="443.7" y="87.5" width="1.0" height="1.0" fill="#3a3a3a"/>
<rect x="444.3" y="86.8" width="1.0" height="1.0" fill="#3a3a3a"/>
<rect x="421.9" y="84.1" width="1.0" height="1.0" fill="#3a3a3a"/>
<rect x="442.6" y="87.8" width="1.0" height="1.0" fill="#3a3a3a"/>
<rect x="422.7" y="86.1" width="1.0" height="1.0" fill="#3a3a3a"/>
<rect x="434.8" y="83.9" width="1.0" height="1.0" fill="#3a3a3a"/>
<rect x="421.4" y="81.0" width="1.0" height="1.0" fill="#3a3a3a"/>
<rect x="435.5" y="86.3" width="1.0" height="1.0" fill="#3a3a3a"/>
<rect x="428.7" y="81.5" width="1.0" height="1.0" fill="#3a3a3a"/>
<rect x="444.4" y="84.8" width="1.0" height="1.0" fill="#3a3a3a"/>
<rect x="438.6" y="81.7" width="1.0" height="1.0" fill="#3a3a3a"/>
<rect x="430.2" y="84.9" width="1.0" height="1.0" fill="#3a3a3a"/>
<rect x="436.5" y="83.2" width="1.0" height="1.0" fill="#3a3a3a"/>
<rect x="436.1" y="87.6" width="1.0" height="1.0" fill="#3a3a3a"/>
<rect x="430.5" y="84.3" width="1.0" height="1.0" fill="#3a3a3a"/>
<rect x="439.2" y="85.2" width="1.0" height="1.0" fill="#3a3a3a"/>
<rect x="435.2" y="82.8" width="1.0" height="1.0" fill="#3a3a3a"/>
<rect x="426.1" y="81.8" width="1.0" height="1.0" fill="#3a3a3a"/>
<rect x="419.8" y="84.9" width="1.0" height="1.0" fill="#3a3a3a"/>
<rect x="441.7" y="85.6" width="1.0" height="1.0" fill="#3a3a3a"/>
<rect x="427.9" y="86.0" width="1.0" height="1.0" fill="#3a3a3a"/>
<rect x="419.8" y="83.0" width="1.0" height="1.0" fill="#3a3a3a"/>
<rect x="443.0" y="83.9" width="1.0" height="1.0" fill="#3a3a3a"/>
<rect x="431.8" y="83.1" width="1.0" height="1.0" fill="#3a3a3a"/>
<rect x="435.2" y="86.8" width="1.0" height="1.0" fill="#3a3a3a"/>
<rect x="423.2" y="86.1" width="1.0" height="1.0" fill="#3a3a3a"/>
<rect x="433.9" y="85.3" width="1.0" height="1.0" fill="#3a3a3a"/>
<rect x="433.1" y="85.4" width="1.0" height="1.0" fill="#3a3a3a"/>
<rect x="429.7" y="83.6" width="1.0" height="1.0" fill="#3a3a3a"/>
<rect x="438.7" y="85.1" width="1.0" height="1.0" fill="#3a3a3a"/>
<rect x="431.9" y="86.6" width="1.0" height="1.0" fill="#3a3a3a"/>
<rect x="434.0" y="82.5" width="1.0" height="1.0" fill="#3a3a3a"/>
<rect x="419.9" y="79.5" width="1.0" height="1.0" fill="#3a3a3a"/>
<rect x="441.8" y="81.9" width="1.0" height="1.0" fill="#3a3a3a"/>
<rect x="425.5" y="83.7" width="1.0" height="1.0" fill="#3a3a3a"/>
<rect x="430.9" y="84.8" width="1.0" height="1.0" fill="#3a3a3a"/>
<rect x="440.2" y="85.4" width="1.0" height="1.0" fill="#3a3a3a"/>
<rect x="435.6" y="85.3" width="1.0" height="1.0" fill="#3a3a3a"/>
<rect x="427.9" y="75.8" width="0.9" height="0.9" fill="#777"/>
<rect x="429.3" y="69.4" width="0.9" height="0.9" fill="#777"/>
<rect x="429.6" y="77.7" width="0.9" height="0.9" fill="#777"/>
<rect x="435.2" y="61.9" width="0.9" height="0.9" fill="#777"/>
<rect x="421.3" y="70.4" width="0.9" height="0.9" fill="#777"/>
<rect x="436.1" y="59.8" width="0.9" height="0.9" fill="#777"/>
<rect x="425.3" y="72.7" width="0.9" height="0.9" fill="#777"/>
<rect x="429.9" y="63.1" width="0.9" height="0.9" fill="#777"/>
<rect x="429.1" y="66.2" width="0.9" height="0.9" fill="#777"/>
<rect x="443.0" y="72.2" width="0.9" height="0.9" fill="#777"/>
<rect x="421.7" y="64.6" width="0.9" height="0.9" fill="#777"/>
<rect x="433.8" y="56.5" width="0.9" height="0.9" fill="#777"/>
<rect x="418.2" y="73.7" width="0.9" height="0.9" fill="#777"/>
<rect x="443.0" y="75.4" width="0.9" height="0.9" fill="#777"/>
<rect x="419.4" y="67.6" width="0.9" height="0.9" fill="#777"/>
<rect x="436.7" y="59.5" width="0.9" height="0.9" fill="#777"/>
<rect x="422.5" y="66.0" width="0.9" height="0.9" fill="#777"/>
<rect x="420.3" y="58.3" width="0.9" height="0.9" fill="#777"/>
<rect x="434.1" y="64.2" width="0.9" height="0.9" fill="#777"/>
<rect x="437.2" y="69.3" width="0.9" height="0.9" fill="#777"/>
<rect x="440.7" y="62.8" width="0.9" height="0.9" fill="#777"/>
<rect x="425.9" y="62.0" width="0.9" height="0.9" fill="#777"/>
<rect x="418.4" y="62.9" width="0.9" height="0.9" fill="#777"/>
<rect x="426.2" y="67.8" width="0.9" height="0.9" fill="#777"/>
</g>
<line x1="415.5" y1="16.4" x2="415.5" y2="100.5" stroke="#555" stroke-width="0.9"/>
<line x1="381.6" y1="73.9" x2="476.4" y2="73.9" stroke="#555" stroke-width="0.9"/>
<rect x="381.6" y="16.4" width="94.8" height="84.1" fill="none" stroke="#333" stroke-width="1.0"/>
<line x1="375.3" y1="38.9" x2="381.6" y2="38.9" stroke="#1a1a1a" stroke-width="1.3"/>
<line x1="375.3" y1="60.2" x2="381.6" y2="60.2" stroke="#1a1a1a" stroke-width="1.3"/>
<line x1="375.3" y1="83.0" x2="381.6" y2="83.0" stroke="#1a1a1a" stroke-width="1.3"/>
<line x1="375.3" y1="91.5" x2="381.6" y2="91.5" stroke="#1a1a1a" stroke-width="1.3"/>
<line x1="378.4" y1="32.5" x2="381.6" y2="32.5" stroke="#222" stroke-width="0.9"/>
<line x1="378.4" y1="28.8" x2="381.6" y2="28.8" stroke="#222" stroke-width="0.9"/>
<line x1="378.4" y1="26.1" x2="381.6" y2="26.1" stroke="#222" stroke-width="0.9"/>
<line x1="378.4" y1="24.1" x2="381.6" y2="24.1" stroke="#222" stroke-width="0.9"/>
<line x1="378.4" y1="22.4" x2="381.6" y2="22.4" stroke="#222" stroke-width="0.9"/>
<line x1="378.4" y1="21.0" x2="381.6" y2="21.0" stroke="#222" stroke-width="0.9"/>
<line x1="378.4" y1="19.8" x2="381.6" y2="19.8" stroke="#222" stroke-width="0.9"/>
<line x1="378.4" y1="18.7" x2="381.6" y2="18.7" stroke="#222" stroke-width="0.9"/>
<line x1="378.4" y1="53.8" x2="381.6" y2="53.8" stroke="#222" stroke-width="0.9"/>
<line x1="378.4" y1="50.1" x2="381.6" y2="50.1" stroke="#222" stroke-width="0.9"/>
<line x1="378.4" y1="47.4" x2="381.6" y2="47.4" stroke="#222" stroke-width="0.9"/>
<line x1="378.4" y1="45.4" x2="381.6" y2="45.4" stroke="#222" stroke-width="0.9"/>
<line x1="378.4" y1="43.7" x2="381.6" y2="43.7" stroke="#222" stroke-width="0.9"/>
<line x1="378.4" y1="42.3" x2="381.6" y2="42.3" stroke="#222" stroke-width="0.9"/>
<line x1="378.4" y1="41.1" x2="381.6" y2="41.1" stroke="#222" stroke-width="0.9"/>
<line x1="378.4" y1="40.0" x2="381.6" y2="40.0" stroke="#222" stroke-width="0.9"/>
<line x1="378.4" y1="76.1" x2="381.6" y2="76.1" stroke="#222" stroke-width="0.9"/>
<line x1="378.4" y1="72.1" x2="381.6" y2="72.1" stroke="#222" stroke-width="0.9"/>
<line x1="378.4" y1="69.3" x2="381.6" y2="69.3" stroke="#222" stroke-width="0.9"/>
<line x1="378.4" y1="67.1" x2="381.6" y2="67.1" stroke="#222" stroke-width="0.9"/>
<line x1="378.4" y1="65.3" x2="381.6" y2="65.3" stroke="#222" stroke-width="0.9"/>
<line x1="378.4" y1="63.7" x2="381.6" y2="63.7" stroke="#222" stroke-width="0.9"/>
<line x1="378.4" y1="62.4" x2="381.6" y2="62.4" stroke="#222" stroke-width="0.9"/>
<line x1="378.4" y1="61.2" x2="381.6" y2="61.2" stroke="#222" stroke-width="0.9"/>
<line x1="378.2" y1="84.3" x2="381.6" y2="84.3" stroke="#1a1a1a" stroke-width="0.9"/>
<line x1="378.2" y1="86.0" x2="381.6" y2="86.0" stroke="#1a1a1a" stroke-width="0.9"/>
<line x1="378.2" y1="87.7" x2="381.6" y2="87.7" stroke="#1a1a1a" stroke-width="0.9"/>
<line x1="378.2" y1="89.4" x2="381.6" y2="89.4" stroke="#1a1a1a" stroke-width="0.9"/>
<line x1="378.2" y1="91.1" x2="381.6" y2="91.1" stroke="#1a1a1a" stroke-width="0.9"/>
<line x1="378.2" y1="92.8" x2="381.6" y2="92.8" stroke="#1a1a1a" stroke-width="0.9"/>
<line x1="378.2" y1="94.5" x2="381.6" y2="94.5" stroke="#1a1a1a" stroke-width="0.9"/>
<line x1="378.2" y1="96.2" x2="381.6" y2="96.2" stroke="#1a1a1a" stroke-width="0.9"/>
<line x1="378.2" y1="97.9" x2="381.6" y2="97.9" stroke="#1a1a1a" stroke-width="0.9"/>
<line x1="378.2" y1="99.6" x2="381.6" y2="99.6" stroke="#1a1a1a" stroke-width="0.9"/>
<line x1="386.0" y1="100.5" x2="386.0" y2="105.5" stroke="#1a1a1a" stroke-width="1.2"/>
<line x1="403.0" y1="100.5" x2="403.0" y2="105.5" stroke="#1a1a1a" stroke-width="1.2"/>
<line x1="428.5" y1="100.5" x2="428.5" y2="105.5" stroke="#1a1a1a" stroke-width="1.2"/>
<line x1="452.0" y1="100.5" x2="452.0" y2="105.5" stroke="#1a1a1a" stroke-width="1.2"/>
<line x1="410.7" y1="100.5" x2="410.7" y2="103.7" stroke="#222" stroke-width="0.9"/>
<line x1="415.2" y1="100.5" x2="415.2" y2="103.7" stroke="#222" stroke-width="0.9"/>
<line x1="418.4" y1="100.5" x2="418.4" y2="103.7" stroke="#222" stroke-width="0.9"/>
<line x1="420.8" y1="100.5" x2="420.8" y2="103.7" stroke="#222" stroke-width="0.9"/>
<line x1="422.8" y1="100.5" x2="422.8" y2="103.7" stroke="#222" stroke-width="0.9"/>
<line x1="424.6" y1="100.5" x2="424.6" y2="103.7" stroke="#222" stroke-width="0.9"/>
<line x1="426.0" y1="100.5" x2="426.0" y2="103.7" stroke="#222" stroke-width="0.9"/>
<line x1="427.3" y1="100.5" x2="427.3" y2="103.7" stroke="#222" stroke-width="0.9"/>
<line x1="435.6" y1="100.5" x2="435.6" y2="103.7" stroke="#222" stroke-width="0.9"/>
<line x1="439.7" y1="100.5" x2="439.7" y2="103.7" stroke="#222" stroke-width="0.9"/>
<line x1="442.6" y1="100.5" x2="442.6" y2="103.7" stroke="#222" stroke-width="0.9"/>
<line x1="444.9" y1="100.5" x2="444.9" y2="103.7" stroke="#222" stroke-width="0.9"/>
<line x1="446.8" y1="100.5" x2="446.8" y2="103.7" stroke="#222" stroke-width="0.9"/>
<line x1="448.4" y1="100.5" x2="448.4" y2="103.7" stroke="#222" stroke-width="0.9"/>
<line x1="449.7" y1="100.5" x2="449.7" y2="103.7" stroke="#222" stroke-width="0.9"/>
<line x1="450.9" y1="100.5" x2="450.9" y2="103.7" stroke="#222" stroke-width="0.9"/>
<line x1="459.1" y1="100.5" x2="459.1" y2="103.7" stroke="#222" stroke-width="0.9"/>
<line x1="463.2" y1="100.5" x2="463.2" y2="103.7" stroke="#222" stroke-width="0.9"/>
<line x1="466.1" y1="100.5" x2="466.1" y2="103.7" stroke="#222" stroke-width="0.9"/>
<line x1="468.4" y1="100.5" x2="468.4" y2="103.7" stroke="#222" stroke-width="0.9"/>
<line x1="470.3" y1="100.5" x2="470.3" y2="103.7" stroke="#222" stroke-width="0.9"/>
<line x1="471.9" y1="100.5" x2="471.9" y2="103.7" stroke="#222" stroke-width="0.9"/>
<line x1="473.2" y1="100.5" x2="473.2" y2="103.7" stroke="#222" stroke-width="0.9"/>
<line x1="474.4" y1="100.5" x2="474.4" y2="103.7" stroke="#222" stroke-width="0.9"/>
<line x1="382.1" y1="100.5" x2="382.1" y2="103.9" stroke="#1a1a1a" stroke-width="0.9"/>
<line x1="383.8" y1="100.5" x2="383.8" y2="103.9" stroke="#1a1a1a" stroke-width="0.9"/>
<line x1="385.5" y1="100.5" x2="385.5" y2="103.9" stroke="#1a1a1a" stroke-width="0.9"/>
<line x1="387.2" y1="100.5" x2="387.2" y2="103.9" stroke="#1a1a1a" stroke-width="0.9"/>
<line x1="388.9" y1="100.5" x2="388.9" y2="103.9" stroke="#1a1a1a" stroke-width="0.9"/>
<line x1="390.6" y1="100.5" x2="390.6" y2="103.9" stroke="#1a1a1a" stroke-width="0.9"/>
<line x1="392.3" y1="100.5" x2="392.3" y2="103.9" stroke="#1a1a1a" stroke-width="0.9"/>
<line x1="394.0" y1="100.5" x2="394.0" y2="103.9" stroke="#1a1a1a" stroke-width="0.9"/>
<line x1="395.7" y1="100.5" x2="395.7" y2="103.9" stroke="#1a1a1a" stroke-width="0.9"/>
<line x1="397.4" y1="100.5" x2="397.4" y2="103.9" stroke="#1a1a1a" stroke-width="0.9"/>
<line x1="399.1" y1="100.5" x2="399.1" y2="103.9" stroke="#1a1a1a" stroke-width="0.9"/>
<line x1="400.8" y1="100.5" x2="400.8" y2="103.9" stroke="#1a1a1a" stroke-width="0.9"/>
<text x="383.2" y="24.2" font-size="7.5" text-anchor="start" class="dj" stroke-width="0.3">Q5</text>
<text x="383.2" y="33.1" font-size="7.8" text-anchor="start" class="dj" stroke-width="0.3">22.1%</text>
<text x="444.5" y="24.2" font-size="7.5" text-anchor="start" class="dj" stroke-width="0.3">Q6</text>
<text x="443.7" y="36.8" font-size="8.8" text-anchor="start" class="dj" fill="#333" stroke-width="0.1">0.2%</text>
<text x="383.2" y="90.2" font-size="7.5" text-anchor="start" class="dj" stroke-width="0.3">Q8</text>
<text x="383.2" y="99.4" font-size="7.8" text-anchor="start" class="dj" stroke-width="0.3">76.6%</text>
<text x="449.0" y="90.2" font-size="7.5" text-anchor="start" class="dj" stroke-width="0.3">Q7</text>
<text x="475.8" y="99.4" font-size="7.8" text-anchor="end" class="dj" stroke-width="0.3">1.10%</text>
<text x="353.2" y="43.8" font-size="8.3" class="djb" stroke-width="0.25">10<tspan dx="1.1" dy="-5.6" font-size="8.3">3</tspan></text>
<text x="353.2" y="65.0" font-size="8.3" class="djb" stroke-width="0.25">10<tspan dx="1.1" dy="-5.6" font-size="8.3">2</tspan></text>
<text x="353.2" y="87.6" font-size="8.3" class="djb" stroke-width="0.25">10<tspan dx="1.1" dy="-5.6" font-size="8.3">1</tspan></text>
<text x="360.4" y="96.0" font-size="8.3" text-anchor="start" class="djb">0</text>
<text x="383.4" y="124.0" font-size="8.3" text-anchor="start" class="djb">0</text>
<text x="397.4" y="124.0" font-size="8.3" class="djb" stroke-width="0.25">10<tspan dx="1.1" dy="-5.6" font-size="8.3">1</tspan></text>
<text x="423" y="124.0" font-size="8.3" class="djb" stroke-width="0.25">10<tspan dx="1.1" dy="-5.6" font-size="8.3">2</tspan></text>
<text x="447.2" y="124.0" font-size="8.3" class="djb" stroke-width="0.25">10<tspan dx="1.1" dy="-5.6" font-size="8.3">3</tspan></text>
</g>
<g transform="translate(-1.3,0)">
<rect x="406.3" y="191.4" width="1.0" height="1.0" fill="#2a2a2a"/>
<rect x="417.5" y="201.6" width="1.0" height="1.0" fill="#2a2a2a"/>
<rect x="401.1" y="200.1" width="1.0" height="1.0" fill="#2a2a2a"/>
<rect x="410.3" y="200.9" width="1.0" height="1.0" fill="#2a2a2a"/>
<rect x="406.8" y="197.9" width="1.0" height="1.0" fill="#2a2a2a"/>
<rect x="401.9" y="200.6" width="1.0" height="1.0" fill="#2a2a2a"/>
<rect x="404.1" y="203.4" width="1.0" height="1.0" fill="#2a2a2a"/>
<rect x="404.4" y="193.8" width="1.0" height="1.0" fill="#2a2a2a"/>
<rect x="402.7" y="194.1" width="1.0" height="1.0" fill="#2a2a2a"/>
<rect x="402.1" y="199.7" width="1.0" height="1.0" fill="#2a2a2a"/>
<rect x="405.5" y="200.9" width="1.0" height="1.0" fill="#2a2a2a"/>
<rect x="399.2" y="198.7" width="1.0" height="1.0" fill="#2a2a2a"/>
<rect x="402.7" y="192.4" width="1.0" height="1.0" fill="#2a2a2a"/>
<rect x="404.5" y="196.5" width="1.0" height="1.0" fill="#2a2a2a"/>
<rect x="406.6" y="195.0" width="1.0" height="1.0" fill="#2a2a2a"/>
<rect x="397.4" y="200.0" width="1.0" height="1.0" fill="#2a2a2a"/>
<rect x="403.0" y="205.2" width="1.0" height="1.0" fill="#2a2a2a"/>
<rect x="406.3" y="196.4" width="1.0" height="1.0" fill="#2a2a2a"/>
<rect x="402.2" y="193.4" width="1.0" height="1.0" fill="#2a2a2a"/>
<rect x="395.5" y="196.5" width="1.0" height="1.0" fill="#2a2a2a"/>
<rect x="405.6" y="199.2" width="1.0" height="1.0" fill="#2a2a2a"/>
<rect x="404.1" y="200.4" width="1.0" height="1.0" fill="#2a2a2a"/>
<rect x="402.5" y="195.7" width="1.0" height="1.0" fill="#2a2a2a"/>
<rect x="412.1" y="200.5" width="1.0" height="1.0" fill="#2a2a2a"/>
<rect x="402.0" y="199.5" width="1.0" height="1.0" fill="#2a2a2a"/>
<rect x="404.7" y="192.6" width="1.0" height="1.0" fill="#2a2a2a"/>
<rect x="401.7" y="203.4" width="1.0" height="1.0" fill="#2a2a2a"/>
<rect x="401.4" y="189.4" width="1.0" height="1.0" fill="#2a2a2a"/>
<rect x="403.2" y="199.3" width="1.0" height="1.0" fill="#2a2a2a"/>
<rect x="399.1" y="196.8" width="1.0" height="1.0" fill="#2a2a2a"/>
<rect x="399.5" y="205.2" width="1.0" height="1.0" fill="#2a2a2a"/>
<rect x="407.7" y="185.6" width="1.0" height="1.0" fill="#2a2a2a"/>
<rect x="395.4" y="197.0" width="1.0" height="1.0" fill="#2a2a2a"/>
<rect x="402.0" y="199.3" width="1.0" height="1.0" fill="#2a2a2a"/>
<rect x="398.0" y="203.3" width="1.0" height="1.0" fill="#2a2a2a"/>
<rect x="407.4" y="204.0" width="1.0" height="1.0" fill="#2a2a2a"/>
<rect x="400.1" y="197.9" width="1.0" height="1.0" fill="#2a2a2a"/>
<rect x="404.8" y="191.5" width="1.0" height="1.0" fill="#2a2a2a"/>
<rect x="391.1" y="200.7" width="1.0" height="1.0" fill="#2a2a2a"/>
<rect x="401.7" y="202.5" width="1.0" height="1.0" fill="#2a2a2a"/>
<rect x="408.6" y="197.5" width="1.0" height="1.0" fill="#2a2a2a"/>
<rect x="411.2" y="190.8" width="1.0" height="1.0" fill="#2a2a2a"/>
<rect x="407.1" y="202.6" width="1.0" height="1.0" fill="#2a2a2a"/>
<rect x="402.2" y="198.4" width="1.0" height="1.0" fill="#2a2a2a"/>
<rect x="396.5" y="203.6" width="1.0" height="1.0" fill="#2a2a2a"/>
<rect x="411.4" y="196.8" width="1.0" height="1.0" fill="#2a2a2a"/>
<rect x="410.9" y="191.2" width="1.0" height="1.0" fill="#2a2a2a"/>
<rect x="404.6" y="206.9" width="1.0" height="1.0" fill="#2a2a2a"/>
<rect x="397.2" y="199.7" width="1.0" height="1.0" fill="#2a2a2a"/>
<rect x="404.9" y="207.9" width="1.0" height="1.0" fill="#2a2a2a"/>
<rect x="408.5" y="195.9" width="1.0" height="1.0" fill="#2a2a2a"/>
<rect x="397.8" y="195.2" width="1.0" height="1.0" fill="#2a2a2a"/>
<rect x="407.4" y="188.5" width="1.0" height="1.0" fill="#2a2a2a"/>
<rect x="396.8" y="201.9" width="1.0" height="1.0" fill="#2a2a2a"/>
<rect x="398.4" y="193.7" width="1.0" height="1.0" fill="#2a2a2a"/>
<rect x="416.1" y="197.7" width="1.0" height="1.0" fill="#2a2a2a"/>
<rect x="398.7" y="204.9" width="1.0" height="1.0" fill="#2a2a2a"/>
<rect x="416.2" y="207.5" width="1.0" height="1.0" fill="#2a2a2a"/>
<rect x="413.1" y="203.0" width="1.0" height="1.0" fill="#2a2a2a"/>
<rect x="412.5" y="190.1" width="1.0" height="1.0" fill="#2a2a2a"/>
<rect x="405.8" y="194.8" width="1.0" height="1.0" fill="#2a2a2a"/>
<rect x="405.7" y="198.6" width="1.0" height="1.0" fill="#2a2a2a"/>
<rect x="399.8" y="197.2" width="1.0" height="1.0" fill="#2a2a2a"/>
<rect x="411.6" y="193.4" width="1.0" height="1.0" fill="#2a2a2a"/>
<rect x="396.9" y="190.5" width="1.0" height="1.0" fill="#2a2a2a"/>
<rect x="398.3" y="198.4" width="1.0" height="1.0" fill="#2a2a2a"/>
<rect x="403.6" y="203.9" width="1.0" height="1.0" fill="#2a2a2a"/>
<rect x="412.5" y="186.9" width="1.0" height="1.0" fill="#2a2a2a"/>
<rect x="397.3" y="198.6" width="1.0" height="1.0" fill="#2a2a2a"/>
<rect x="409.6" y="192.5" width="1.0" height="1.0" fill="#2a2a2a"/>
<rect x="410.8" y="199.0" width="1.0" height="1.0" fill="#2a2a2a"/>
<rect x="410.2" y="196.9" width="1.0" height="1.0" fill="#2a2a2a"/>
<rect x="400.3" y="198.2" width="1.0" height="1.0" fill="#2a2a2a"/>
<rect x="407.5" y="205.8" width="1.0" height="1.0" fill="#2a2a2a"/>
<rect x="400.3" y="199.3" width="1.0" height="1.0" fill="#2a2a2a"/>
<rect x="400.3" y="205.0" width="1.0" height="1.0" fill="#2a2a2a"/>
<rect x="413.0" y="201.3" width="1.0" height="1.0" fill="#2a2a2a"/>
<rect x="404.4" y="207.1" width="1.0" height="1.0" fill="#2a2a2a"/>
<rect x="403.1" y="190.4" width="1.0" height="1.0" fill="#2a2a2a"/>
<rect x="401.8" y="192.4" width="1.0" height="1.0" fill="#2a2a2a"/>
<rect x="404.5" y="193.0" width="1.0" height="1.0" fill="#2a2a2a"/>
<rect x="403.0" y="192.1" width="1.0" height="1.0" fill="#2a2a2a"/>
<rect x="410.7" y="196.1" width="1.0" height="1.0" fill="#2a2a2a"/>
<rect x="390.0" y="197.9" width="1.0" height="1.0" fill="#2a2a2a"/>
<rect x="406.2" y="192.4" width="1.0" height="1.0" fill="#2a2a2a"/>
<rect x="409.5" y="204.3" width="1.0" height="1.0" fill="#2a2a2a"/>
<rect x="401.4" y="203.3" width="1.0" height="1.0" fill="#2a2a2a"/>
<rect x="404.8" y="192.6" width="1.0" height="1.0" fill="#2a2a2a"/>
<rect x="402.9" y="197.4" width="1.0" height="1.0" fill="#2a2a2a"/>
<rect x="406.0" y="193.7" width="1.0" height="1.0" fill="#2a2a2a"/>
<rect x="408.3" y="197.9" width="1.0" height="1.0" fill="#2a2a2a"/>
<rect x="414.3" y="196.0" width="1.0" height="1.0" fill="#2a2a2a"/>
<rect x="410.1" y="199.5" width="1.0" height="1.0" fill="#2a2a2a"/>
<rect x="407.9" y="205.9" width="1.0" height="1.0" fill="#2a2a2a"/>
<rect x="409.7" y="196.9" width="1.0" height="1.0" fill="#2a2a2a"/>
<rect x="411.1" y="193.1" width="1.0" height="1.0" fill="#2a2a2a"/>
<rect x="411.5" y="200.8" width="1.0" height="1.0" fill="#2a2a2a"/>
<rect x="401.4" y="203.6" width="1.0" height="1.0" fill="#2a2a2a"/>
<rect x="401.7" y="201.7" width="1.0" height="1.0" fill="#2a2a2a"/>
<rect x="400.8" y="196.5" width="1.0" height="1.0" fill="#2a2a2a"/>
<rect x="405.0" y="198.0" width="1.0" height="1.0" fill="#2a2a2a"/>
<rect x="405.7" y="197.2" width="1.0" height="1.0" fill="#2a2a2a"/>
<rect x="411.5" y="201.3" width="1.0" height="1.0" fill="#2a2a2a"/>
<rect x="406.5" y="202.9" width="1.0" height="1.0" fill="#2a2a2a"/>
<rect x="399.6" y="195.6" width="1.0" height="1.0" fill="#2a2a2a"/>
<rect x="402.6" y="202.0" width="1.0" height="1.0" fill="#2a2a2a"/>
<rect x="402.6" y="202.9" width="1.0" height="1.0" fill="#2a2a2a"/>
<rect x="407.7" y="192.9" width="1.0" height="1.0" fill="#2a2a2a"/>
<rect x="400.6" y="204.9" width="1.0" height="1.0" fill="#2a2a2a"/>
<rect x="411.8" y="190.1" width="1.0" height="1.0" fill="#2a2a2a"/>
<rect x="418.8" y="197.7" width="1.0" height="1.0" fill="#2a2a2a"/>
<rect x="405.4" y="203.1" width="1.0" height="1.0" fill="#2a2a2a"/>
<rect x="405.6" y="196.9" width="1.0" height="1.0" fill="#2a2a2a"/>
<rect x="398.7" y="204.4" width="1.0" height="1.0" fill="#2a2a2a"/>
<rect x="395.4" y="203.1" width="1.0" height="1.0" fill="#2a2a2a"/>
<rect x="398.9" y="205.3" width="1.0" height="1.0" fill="#2a2a2a"/>
<rect x="400.7" y="202.1" width="1.0" height="1.0" fill="#2a2a2a"/>
<rect x="406.9" y="198.7" width="1.0" height="1.0" fill="#2a2a2a"/>
<rect x="406.7" y="203.6" width="1.0" height="1.0" fill="#2a2a2a"/>
<rect x="401.6" y="202.4" width="1.0" height="1.0" fill="#2a2a2a"/>
<rect x="413.7" y="196.0" width="1.0" height="1.0" fill="#2a2a2a"/>
<rect x="407.3" y="197.9" width="1.0" height="1.0" fill="#2a2a2a"/>
<rect x="401.4" y="209.4" width="1.0" height="1.0" fill="#2a2a2a"/>
<rect x="400.1" y="204.3" width="1.0" height="1.0" fill="#2a2a2a"/>
<rect x="406.9" y="209.3" width="1.0" height="1.0" fill="#2a2a2a"/>
<rect x="406.5" y="198.2" width="1.0" height="1.0" fill="#2a2a2a"/>
<rect x="410.7" y="198.0" width="1.0" height="1.0" fill="#2a2a2a"/>
<rect x="395.7" y="196.3" width="1.0" height="1.0" fill="#2a2a2a"/>
<rect x="404.7" y="198.3" width="1.0" height="1.0" fill="#2a2a2a"/>
<rect x="405.0" y="201.1" width="1.0" height="1.0" fill="#2a2a2a"/>
<rect x="412.7" y="194.0" width="1.0" height="1.0" fill="#2a2a2a"/>
<rect x="401.5" y="195.3" width="1.0" height="1.0" fill="#2a2a2a"/>
<rect x="399.7" y="195.1" width="1.0" height="1.0" fill="#2a2a2a"/>
<rect x="408.2" y="195.1" width="1.0" height="1.0" fill="#2a2a2a"/>
<rect x="408.1" y="190.2" width="1.0" height="1.0" fill="#2a2a2a"/>
<rect x="407.9" y="207.4" width="1.0" height="1.0" fill="#2a2a2a"/>
<rect x="398.9" y="187.9" width="1.0" height="1.0" fill="#2a2a2a"/>
<rect x="406.8" y="199.4" width="1.0" height="1.0" fill="#2a2a2a"/>
<rect x="401.6" y="199.5" width="1.0" height="1.0" fill="#2a2a2a"/>
<rect x="402.7" y="195.0" width="1.0" height="1.0" fill="#2a2a2a"/>
<rect x="401.1" y="198.5" width="1.0" height="1.0" fill="#2a2a2a"/>
<rect x="395.5" y="209.3" width="1.0" height="1.0" fill="#2a2a2a"/>
<rect x="401.4" y="197.7" width="1.0" height="1.0" fill="#2a2a2a"/>
<rect x="405.2" y="210.2" width="1.0" height="1.0" fill="#2a2a2a"/>
<rect x="410.8" y="196.9" width="1.0" height="1.0" fill="#2a2a2a"/>
<rect x="407.9" y="202.0" width="1.0" height="1.0" fill="#2a2a2a"/>
<rect x="407.8" y="194.6" width="1.0" height="1.0" fill="#2a2a2a"/>
<rect x="411.9" y="200.8" width="1.0" height="1.0" fill="#2a2a2a"/>
<rect x="409.7" y="202.5" width="1.0" height="1.0" fill="#2a2a2a"/>
<rect x="400.9" y="201.5" width="1.0" height="1.0" fill="#2a2a2a"/>
<rect x="409.7" y="210.5" width="1.0" height="1.0" fill="#2e2e2e"/>
<rect x="406.6" y="209.0" width="1.0" height="1.0" fill="#2e2e2e"/>
<rect x="403.7" y="211.0" width="1.0" height="1.0" fill="#2e2e2e"/>
<rect x="401.8" y="212.2" width="1.0" height="1.0" fill="#2e2e2e"/>
<rect x="409.0" y="209.4" width="1.0" height="1.0" fill="#2e2e2e"/>
<rect x="405.8" y="207.7" width="1.0" height="1.0" fill="#2e2e2e"/>
<rect x="404.9" y="211.6" width="1.0" height="1.0" fill="#2e2e2e"/>
<rect x="394.4" y="207.0" width="1.0" height="1.0" fill="#2e2e2e"/>
<rect x="402.0" y="213.0" width="1.0" height="1.0" fill="#2e2e2e"/>
<rect x="411.2" y="212.6" width="1.0" height="1.0" fill="#2e2e2e"/>
<rect x="404.5" y="210.4" width="1.0" height="1.0" fill="#2e2e2e"/>
<rect x="409.2" y="210.6" width="1.0" height="1.0" fill="#2e2e2e"/>
<rect x="410.5" y="209.5" width="1.0" height="1.0" fill="#2e2e2e"/>
<rect x="407.0" y="213.2" width="1.0" height="1.0" fill="#2e2e2e"/>
<rect x="393.5" y="212.3" width="1.0" height="1.0" fill="#2e2e2e"/>
<rect x="411.1" y="208.3" width="1.0" height="1.0" fill="#2e2e2e"/>
<rect x="407.6" y="208.3" width="1.0" height="1.0" fill="#2e2e2e"/>
<rect x="405.1" y="211.7" width="1.0" height="1.0" fill="#2e2e2e"/>
<rect x="393.9" y="210.1" width="1.0" height="1.0" fill="#2e2e2e"/>
<rect x="410.1" y="212.5" width="1.0" height="1.0" fill="#2e2e2e"/>
<rect x="406.8" y="210.3" width="1.0" height="1.0" fill="#2e2e2e"/>
<rect x="408.6" y="211.8" width="1.0" height="1.0" fill="#2e2e2e"/>
<rect x="400.4" y="210.7" width="1.0" height="1.0" fill="#2e2e2e"/>
<rect x="408.6" y="207.5" width="1.0" height="1.0" fill="#2e2e2e"/>
<rect x="399.9" y="213.0" width="1.0" height="1.0" fill="#2e2e2e"/>
<rect x="400.3" y="210.6" width="1.0" height="1.0" fill="#2e2e2e"/>
<rect x="402.4" y="212.4" width="1.0" height="1.0" fill="#2e2e2e"/>
<rect x="411.1" y="209.6" width="1.0" height="1.0" fill="#2e2e2e"/>
<rect x="403.1" y="210.4" width="1.0" height="1.0" fill="#2e2e2e"/>
<rect x="406.2" y="209.6" width="1.0" height="1.0" fill="#2e2e2e"/>
<rect x="399.8" y="212.9" width="1.0" height="1.0" fill="#2e2e2e"/>
<rect x="396.1" y="208.7" width="1.0" height="1.0" fill="#2e2e2e"/>
<rect x="405.0" y="209.9" width="1.0" height="1.0" fill="#2e2e2e"/>
<rect x="412.5" y="211.3" width="1.0" height="1.0" fill="#2e2e2e"/>
<rect x="404.8" y="207.6" width="1.0" height="1.0" fill="#2e2e2e"/>
<rect x="410.1" y="212.5" width="1.0" height="1.0" fill="#2e2e2e"/>
<rect x="411.0" y="210.5" width="1.0" height="1.0" fill="#2e2e2e"/>
<rect x="411.9" y="211.0" width="1.0" height="1.0" fill="#2e2e2e"/>
<rect x="405.4" y="209.7" width="1.0" height="1.0" fill="#2e2e2e"/>
<rect x="399.3" y="211.7" width="1.0" height="1.0" fill="#2e2e2e"/>
<rect x="401.8" y="215.3" width="1.0" height="1.0" fill="#2e2e2e"/>
<rect x="400.1" y="212.2" width="1.0" height="1.0" fill="#2e2e2e"/>
<rect x="407.5" y="210.6" width="1.0" height="1.0" fill="#2e2e2e"/>
<rect x="414.9" y="213.5" width="1.0" height="1.0" fill="#2e2e2e"/>
<rect x="401.0" y="212.3" width="1.0" height="1.0" fill="#2e2e2e"/>
<rect x="400.7" y="211.8" width="1.0" height="1.0" fill="#2e2e2e"/>
<rect x="403.0" y="213.0" width="1.0" height="1.0" fill="#2e2e2e"/>
<rect x="410.6" y="210.1" width="1.0" height="1.0" fill="#2e2e2e"/>
<rect x="405.9" y="210.9" width="1.0" height="1.0" fill="#2e2e2e"/>
<rect x="403.0" y="210.5" width="1.0" height="1.0" fill="#2e2e2e"/>
<rect x="407.7" y="209.6" width="1.0" height="1.0" fill="#2e2e2e"/>
<rect x="403.4" y="209.5" width="1.0" height="1.0" fill="#2e2e2e"/>
<rect x="411.4" y="210.9" width="1.0" height="1.0" fill="#2e2e2e"/>
<rect x="405.2" y="213.4" width="1.0" height="1.0" fill="#2e2e2e"/>
<rect x="401.8" y="210.2" width="1.0" height="1.0" fill="#2e2e2e"/>
<rect x="415.0" y="209.0" width="1.0" height="1.0" fill="#2e2e2e"/>
<rect x="401.3" y="210.7" width="1.0" height="1.0" fill="#2e2e2e"/>
<rect x="410.9" y="210.0" width="1.0" height="1.0" fill="#2e2e2e"/>
<rect x="407.3" y="211.2" width="1.0" height="1.0" fill="#2e2e2e"/>
<rect x="409.1" y="207.9" width="1.0" height="1.0" fill="#2e2e2e"/>
<rect x="407.0" y="210.6" width="1.0" height="1.0" fill="#2e2e2e"/>
<rect x="403.1" y="213.5" width="1.0" height="1.0" fill="#2e2e2e"/>
<rect x="412.7" y="209.1" width="1.0" height="1.0" fill="#2e2e2e"/>
<rect x="404.6" y="210.9" width="1.0" height="1.0" fill="#2e2e2e"/>
<rect x="412.9" y="208.5" width="1.0" height="1.0" fill="#2e2e2e"/>
<rect x="406.7" y="210.9" width="1.0" height="1.0" fill="#2e2e2e"/>
<rect x="405.2" y="208.5" width="1.0" height="1.0" fill="#2e2e2e"/>
<rect x="399.7" y="208.3" width="1.0" height="1.0" fill="#2e2e2e"/>
<rect x="401.6" y="215.7" width="1.0" height="1.0" fill="#2e2e2e"/>
<rect x="408.5" y="212.3" width="1.0" height="1.0" fill="#2e2e2e"/>
<rect x="407.0" y="207.4" width="1.0" height="1.0" fill="#2e2e2e"/>
<rect x="411.1" y="209.7" width="1.0" height="1.0" fill="#2e2e2e"/>
<rect x="396.1" y="205.1" width="1.0" height="1.0" fill="#2e2e2e"/>
<rect x="399.8" y="209.6" width="1.0" height="1.0" fill="#2e2e2e"/>
<rect x="410.1" y="208.9" width="1.0" height="1.0" fill="#2e2e2e"/>
<rect x="403.8" y="212.3" width="1.0" height="1.0" fill="#2e2e2e"/>
<rect x="411.5" y="208.1" width="1.0" height="1.0" fill="#2e2e2e"/>
<rect x="413.5" y="210.3" width="1.0" height="1.0" fill="#2e2e2e"/>
<rect x="404.8" y="211.5" width="1.0" height="1.0" fill="#2e2e2e"/>
<rect x="407.5" y="209.9" width="1.0" height="1.0" fill="#2e2e2e"/>
<rect x="408.5" y="209.8" width="1.0" height="1.0" fill="#2e2e2e"/>
<rect x="402.4" y="208.7" width="1.0" height="1.0" fill="#2e2e2e"/>
<rect x="407.9" y="212.7" width="1.0" height="1.0" fill="#2e2e2e"/>
<rect x="405.4" y="215.9" width="1.0" height="1.0" fill="#2e2e2e"/>
<rect x="409.6" y="211.1" width="1.0" height="1.0" fill="#2e2e2e"/>
<rect x="405.3" y="212.4" width="1.0" height="1.0" fill="#2e2e2e"/>
<rect x="400.3" y="212.9" width="1.0" height="1.0" fill="#2e2e2e"/>
<rect x="402.1" y="208.0" width="1.0" height="1.0" fill="#2e2e2e"/>
<rect x="399.0" y="211.4" width="1.0" height="1.0" fill="#2e2e2e"/>
<rect x="406.0" y="210.7" width="1.0" height="1.0" fill="#2e2e2e"/>
<rect x="406.1" y="210.5" width="1.0" height="1.0" fill="#2e2e2e"/>
<rect x="406.9" y="211.9" width="1.0" height="1.0" fill="#2e2e2e"/>
<rect x="408.5" y="210.9" width="1.0" height="1.0" fill="#2e2e2e"/>
<rect x="407.0" y="214.9" width="1.0" height="1.0" fill="#2e2e2e"/>
<rect x="402.6" y="211.2" width="1.0" height="1.0" fill="#2e2e2e"/>
<rect x="404.3" y="206.6" width="1.0" height="1.0" fill="#2e2e2e"/>
<rect x="399.3" y="208.3" width="1.0" height="1.0" fill="#2e2e2e"/>
<rect x="407.7" y="213.8" width="1.0" height="1.0" fill="#2e2e2e"/>
<rect x="398.2" y="209.1" width="1.0" height="1.0" fill="#2e2e2e"/>
<rect x="403.6" y="210.2" width="1.0" height="1.0" fill="#2e2e2e"/>
<rect x="397.3" y="210.0" width="1.0" height="1.0" fill="#2e2e2e"/>
<rect x="410.9" y="210.0" width="1.0" height="1.0" fill="#2e2e2e"/>
<rect x="402.2" y="208.6" width="1.0" height="1.0" fill="#2e2e2e"/>
<rect x="409.6" y="207.7" width="1.0" height="1.0" fill="#2e2e2e"/>
<rect x="413.3" y="209.7" width="1.0" height="1.0" fill="#2e2e2e"/>
<rect x="410.9" y="210.7" width="1.0" height="1.0" fill="#2e2e2e"/>
<rect x="404.4" y="209.9" width="1.0" height="1.0" fill="#2e2e2e"/>
<rect x="408.3" y="205.4" width="1.0" height="1.0" fill="#2e2e2e"/>
<rect x="401.7" y="206.9" width="1.0" height="1.0" fill="#2e2e2e"/>
<rect x="412.4" y="213.1" width="1.0" height="1.0" fill="#2e2e2e"/>
<g filter="url(#bl)">
<rect x="396.8" y="192.8" width="18.8" height="12.4" rx="4.5" fill="#2e2e2e"/>
<rect x="398.6" y="194.4" width="14.6" height="9.2" rx="3.5" fill="#6e6e6e"/>
<ellipse cx="403.6" cy="198.9" rx="4.4" ry="3.0" fill="#929292"/>
<rect x="396.4" y="214.7" width="14.5" height="9.2" rx="1.5" fill="#e2e2e2"/>
<ellipse cx="413.3" cy="218.8" rx="3.2" ry="4.8" fill="#333"/>
<ellipse cx="413.0" cy="219.3" rx="1.9" ry="3.4" fill="#808080"/>
<ellipse cx="417.3" cy="216.0" rx="3.0" ry="4.4" fill="#333"/>
</g>
<g>
<rect x="428.7" y="198.3" width="0.9" height="0.9" fill="#555"/>
<rect x="442.4" y="213.3" width="0.9" height="0.9" fill="#555"/>
<rect x="418.0" y="190.1" width="0.9" height="0.9" fill="#555"/>
<rect x="423.0" y="197.8" width="0.9" height="0.9" fill="#555"/>
<rect x="436.6" y="208.3" width="0.9" height="0.9" fill="#555"/>
<rect x="432.4" y="209.2" width="0.9" height="0.9" fill="#555"/>
<rect x="442.4" y="210.1" width="0.9" height="0.9" fill="#555"/>
<rect x="421.0" y="197.6" width="0.9" height="0.9" fill="#555"/>
<rect x="425.6" y="199.5" width="0.9" height="0.9" fill="#555"/>
<rect x="438.9" y="222.7" width="0.9" height="0.9" fill="#555"/>
<rect x="418.2" y="195.1" width="0.9" height="0.9" fill="#555"/>
<rect x="432.1" y="207.0" width="0.9" height="0.9" fill="#555"/>
<rect x="426.4" y="199.7" width="0.9" height="0.9" fill="#555"/>
<rect x="425.1" y="203.1" width="0.9" height="0.9" fill="#555"/>
<rect x="439.6" y="211.4" width="0.9" height="0.9" fill="#555"/>
<rect x="422.0" y="199.0" width="0.9" height="0.9" fill="#555"/>
<rect x="419.5" y="196.9" width="0.9" height="0.9" fill="#555"/>
<rect x="431.0" y="199.9" width="0.9" height="0.9" fill="#555"/>
<rect x="417.4" y="199.4" width="0.9" height="0.9" fill="#555"/>
<rect x="441.0" y="207.9" width="0.9" height="0.9" fill="#555"/>
<rect x="422.1" y="199.2" width="0.9" height="0.9" fill="#555"/>
<rect x="441.9" y="213.6" width="0.9" height="0.9" fill="#555"/>
<rect x="422.3" y="206.9" width="0.9" height="0.9" fill="#555"/>
<rect x="442.5" y="217.9" width="0.9" height="0.9" fill="#555"/>
<rect x="441.6" y="212.2" width="0.9" height="0.9" fill="#555"/>
<rect x="426.1" y="196.6" width="0.9" height="0.9" fill="#555"/>
<rect x="437.0" y="211.1" width="0.9" height="0.9" fill="#555"/>
<rect x="424.7" y="207.7" width="0.9" height="0.9" fill="#555"/>
<rect x="428.0" y="203.7" width="0.9" height="0.9" fill="#555"/>
<rect x="421.2" y="194.3" width="0.9" height="0.9" fill="#555"/>
<rect x="434.5" y="208.9" width="0.9" height="0.9" fill="#555"/>
<rect x="419.6" y="193.9" width="0.9" height="0.9" fill="#555"/>
<rect x="438.0" y="213.8" width="0.9" height="0.9" fill="#555"/>
<rect x="432.4" y="208.1" width="0.9" height="0.9" fill="#555"/>
<rect x="423.4" y="199.5" width="0.9" height="0.9" fill="#555"/>
<rect x="423.9" y="201.6" width="0.9" height="0.9" fill="#555"/>
<rect x="426.0" y="194.5" width="0.9" height="0.9" fill="#555"/>
<rect x="433.5" y="208.5" width="0.9" height="0.9" fill="#555"/>
<rect x="428.5" y="205.0" width="0.9" height="0.9" fill="#555"/>
<rect x="439.6" y="212.4" width="0.9" height="0.9" fill="#555"/>
<rect x="430.8" y="208.5" width="0.9" height="0.9" fill="#555"/>
<rect x="434.4" y="205.7" width="0.9" height="0.9" fill="#555"/>
<rect x="430.0" y="207.7" width="0.9" height="0.9" fill="#555"/>
<rect x="417.1" y="196.4" width="0.9" height="0.9" fill="#555"/>
<rect x="420.0" y="197.3" width="0.9" height="0.9" fill="#555"/>
<rect x="437.2" y="216.2" width="0.9" height="0.9" fill="#555"/>
<rect x="417.4" y="197.8" width="0.9" height="0.9" fill="#555"/>
<rect x="422.5" y="192.1" width="0.9" height="0.9" fill="#555"/>
<rect x="416.9" y="202.3" width="0.9" height="0.9" fill="#555"/>
<rect x="430.9" y="199.6" width="0.9" height="0.9" fill="#555"/>
<rect x="438.5" y="207.8" width="0.9" height="0.9" fill="#555"/>
<rect x="427.7" y="206.9" width="0.9" height="0.9" fill="#555"/>
<rect x="423.7" y="203.4" width="0.9" height="0.9" fill="#555"/>
<rect x="440.7" y="213.8" width="0.9" height="0.9" fill="#555"/>
<rect x="420.0" y="196.6" width="0.9" height="0.9" fill="#555"/>
<rect x="420.6" y="192.9" width="0.9" height="0.9" fill="#555"/>
<rect x="420.1" y="197.3" width="0.9" height="0.9" fill="#555"/>
<rect x="421.6" y="200.1" width="0.9" height="0.9" fill="#555"/>
<rect x="422.7" y="203.8" width="0.9" height="0.9" fill="#555"/>
<rect x="427.3" y="200.1" width="0.9" height="0.9" fill="#555"/>
<rect x="441.9" y="214.6" width="0.9" height="0.9" fill="#555"/>
<rect x="433.8" y="205.6" width="0.9" height="0.9" fill="#555"/>
<rect x="422.9" y="197.0" width="0.9" height="0.9" fill="#555"/>
<rect x="419.5" y="195.7" width="0.9" height="0.9" fill="#555"/>
<rect x="419.0" y="196.4" width="0.9" height="0.9" fill="#555"/>
<rect x="441.0" y="210.6" width="0.9" height="0.9" fill="#555"/>
<rect x="425.2" y="202.0" width="0.9" height="0.9" fill="#555"/>
<rect x="431.4" y="210.7" width="0.9" height="0.9" fill="#555"/>
<rect x="441.2" y="210.8" width="0.9" height="0.9" fill="#555"/>
<rect x="426.6" y="200.6" width="0.9" height="0.9" fill="#555"/>
<rect x="424.5" y="204.9" width="0.9" height="0.9" fill="#555"/>
<rect x="422.1" y="199.6" width="0.9" height="0.9" fill="#555"/>
<rect x="430.9" y="205.5" width="0.9" height="0.9" fill="#555"/>
<rect x="424.3" y="203.4" width="0.9" height="0.9" fill="#555"/>
<rect x="422.9" y="201.2" width="0.9" height="0.9" fill="#555"/>
<rect x="434.8" y="204.0" width="0.9" height="0.9" fill="#555"/>
<rect x="426.6" y="204.8" width="0.9" height="0.9" fill="#555"/>
<rect x="438.5" y="219.2" width="0.9" height="0.9" fill="#555"/>
<rect x="428.2" y="195.8" width="0.9" height="0.9" fill="#555"/>
<rect x="432.2" y="200.8" width="0.9" height="0.9" fill="#555"/>
<rect x="420.6" y="196.0" width="0.9" height="0.9" fill="#555"/>
<rect x="433.5" y="215.5" width="0.9" height="0.9" fill="#555"/>
<rect x="420.0" y="201.8" width="0.9" height="0.9" fill="#555"/>
<rect x="434.8" y="208.6" width="0.9" height="0.9" fill="#555"/>
<rect x="418.4" y="198.0" width="0.9" height="0.9" fill="#555"/>
<rect x="441.3" y="216.1" width="0.9" height="0.9" fill="#555"/>
<rect x="421.5" y="200.3" width="0.9" height="0.9" fill="#555"/>
<rect x="422.0" y="202.4" width="0.9" height="0.9" fill="#555"/>
<rect x="430.0" y="201.7" width="0.9" height="0.9" fill="#555"/>
<rect x="439.1" y="216.2" width="0.9" height="0.9" fill="#555"/>
<rect x="440.1" y="208.2" width="0.9" height="0.9" fill="#555"/>
<rect x="442.3" y="210.3" width="0.9" height="0.9" fill="#555"/>
<rect x="421.5" y="194.9" width="0.9" height="0.9" fill="#555"/>
<rect x="433.6" y="207.1" width="0.9" height="0.9" fill="#555"/>
<rect x="429.3" y="198.4" width="0.9" height="0.9" fill="#555"/>
<rect x="434.8" y="213.0" width="0.9" height="0.9" fill="#555"/>
<rect x="433.3" y="198.9" width="0.9" height="0.9" fill="#555"/>
<rect x="426.0" y="205.5" width="0.9" height="0.9" fill="#555"/>
<rect x="431.9" y="208.6" width="0.9" height="0.9" fill="#555"/>
<rect x="429.0" y="206.8" width="0.9" height="0.9" fill="#555"/>
<rect x="436.2" y="205.8" width="0.9" height="0.9" fill="#555"/>
<rect x="436.1" y="208.4" width="0.9" height="0.9" fill="#555"/>
<rect x="442.1" y="215.4" width="0.9" height="0.9" fill="#555"/>
<rect x="422.7" y="200.0" width="0.9" height="0.9" fill="#555"/>
<rect x="439.6" y="209.0" width="0.9" height="0.9" fill="#555"/>
<rect x="447.0" y="214.6" width="0.9" height="0.9" fill="#555"/>
<rect x="428.0" y="199.1" width="0.9" height="0.9" fill="#555"/>
<rect x="431.7" y="199.9" width="0.9" height="0.9" fill="#555"/>
<rect x="436.7" y="210.6" width="0.9" height="0.9" fill="#555"/>
<rect x="425.7" y="202.6" width="0.9" height="0.9" fill="#555"/>
<rect x="432.2" y="211.1" width="0.9" height="0.9" fill="#555"/>
<rect x="424.5" y="206.4" width="0.9" height="0.9" fill="#555"/>
<rect x="444.5" y="209.6" width="0.9" height="0.9" fill="#555"/>
<rect x="419.1" y="197.1" width="0.9" height="0.9" fill="#555"/>
<rect x="420.1" y="200.4" width="0.9" height="0.9" fill="#555"/>
<rect x="420.8" y="215.0" width="0.9" height="0.9" fill="#3a3a3a"/>
<rect x="417.9" y="214.2" width="0.9" height="0.9" fill="#3a3a3a"/>
<rect x="427.4" y="214.0" width="0.9" height="0.9" fill="#3a3a3a"/>
<rect x="423.0" y="209.9" width="0.9" height="0.9" fill="#3a3a3a"/>
<rect x="417.1" y="216.1" width="0.9" height="0.9" fill="#3a3a3a"/>
<rect x="427.6" y="219.0" width="0.9" height="0.9" fill="#3a3a3a"/>
<rect x="427.8" y="219.3" width="0.9" height="0.9" fill="#3a3a3a"/>
<rect x="418.3" y="214.2" width="0.9" height="0.9" fill="#3a3a3a"/>
<rect x="419.5" y="210.9" width="0.9" height="0.9" fill="#3a3a3a"/>
<rect x="425.9" y="218.3" width="0.9" height="0.9" fill="#3a3a3a"/>
<rect x="442.5" y="218.1" width="0.9" height="0.9" fill="#3a3a3a"/>
<rect x="427.2" y="221.1" width="0.9" height="0.9" fill="#3a3a3a"/>
<rect x="433.5" y="223.8" width="0.9" height="0.9" fill="#3a3a3a"/>
<rect x="421.7" y="217.0" width="0.9" height="0.9" fill="#3a3a3a"/>
<rect x="417.1" y="220.8" width="0.9" height="0.9" fill="#3a3a3a"/>
<rect x="423.0" y="222.9" width="0.9" height="0.9" fill="#3a3a3a"/>
<rect x="420.3" y="217.6" width="0.9" height="0.9" fill="#3a3a3a"/>
<rect x="418.1" y="212.2" width="0.9" height="0.9" fill="#3a3a3a"/>
<rect x="418.6" y="224.1" width="0.9" height="0.9" fill="#3a3a3a"/>
<rect x="422.3" y="212.8" width="0.9" height="0.9" fill="#3a3a3a"/>
<rect x="424.3" y="214.2" width="0.9" height="0.9" fill="#3a3a3a"/>
<rect x="417.4" y="205.6" width="0.9" height="0.9" fill="#3a3a3a"/>
<rect x="423.0" y="217.5" width="0.9" height="0.9" fill="#3a3a3a"/>
<rect x="429.4" y="212.6" width="0.9" height="0.9" fill="#3a3a3a"/>
<rect x="419.8" y="220.6" width="0.9" height="0.9" fill="#3a3a3a"/>
<rect x="426.3" y="219.5" width="0.9" height="0.9" fill="#3a3a3a"/>
<rect x="430.8" y="214.4" width="0.9" height="0.9" fill="#3a3a3a"/>
<rect x="420.5" y="214.5" width="0.9" height="0.9" fill="#3a3a3a"/>
<rect x="420.0" y="216.7" width="0.9" height="0.9" fill="#3a3a3a"/>
<rect x="425.6" y="214.8" width="0.9" height="0.9" fill="#3a3a3a"/>
<rect x="426.5" y="210.0" width="0.9" height="0.9" fill="#3a3a3a"/>
<rect x="417.7" y="215.5" width="0.9" height="0.9" fill="#3a3a3a"/>
<rect x="421.5" y="214.7" width="0.9" height="0.9" fill="#3a3a3a"/>
<rect x="418.4" y="209.3" width="0.9" height="0.9" fill="#3a3a3a"/>
<rect x="423.7" y="222.3" width="0.9" height="0.9" fill="#3a3a3a"/>
<rect x="437.3" y="214.8" width="0.9" height="0.9" fill="#3a3a3a"/>
<rect x="428.4" y="214.0" width="0.9" height="0.9" fill="#3a3a3a"/>
<rect x="420.3" y="212.9" width="0.9" height="0.9" fill="#3a3a3a"/>
<rect x="426.4" y="213.1" width="0.9" height="0.9" fill="#3a3a3a"/>
<rect x="421.0" y="215.7" width="0.9" height="0.9" fill="#3a3a3a"/>
<rect x="439.7" y="217.4" width="0.9" height="0.9" fill="#3a3a3a"/>
<rect x="433.4" y="215.5" width="0.9" height="0.9" fill="#3a3a3a"/>
<rect x="418.0" y="216.7" width="0.9" height="0.9" fill="#3a3a3a"/>
<rect x="431.6" y="229.0" width="0.9" height="0.9" fill="#3a3a3a"/>
<rect x="421.6" y="208.2" width="0.9" height="0.9" fill="#3a3a3a"/>
<rect x="417.5" y="216.3" width="0.9" height="0.9" fill="#3a3a3a"/>
<rect x="428.8" y="219.2" width="0.9" height="0.9" fill="#3a3a3a"/>
<rect x="418.4" y="212.5" width="0.9" height="0.9" fill="#3a3a3a"/>
<rect x="419.3" y="218.8" width="0.9" height="0.9" fill="#3a3a3a"/>
<rect x="421.6" y="219.4" width="0.9" height="0.9" fill="#3a3a3a"/>
<rect x="419.2" y="212.2" width="0.9" height="0.9" fill="#3a3a3a"/>
<rect x="421.2" y="220.3" width="0.9" height="0.9" fill="#3a3a3a"/>
<rect x="433.1" y="216.5" width="0.9" height="0.9" fill="#3a3a3a"/>
<rect x="423.4" y="216.4" width="0.9" height="0.9" fill="#3a3a3a"/>
<rect x="417.5" y="216.6" width="0.9" height="0.9" fill="#3a3a3a"/>
<rect x="428.2" y="216.5" width="0.9" height="0.9" fill="#3a3a3a"/>
<rect x="417.1" y="214.7" width="0.9" height="0.9" fill="#3a3a3a"/>
<rect x="445.1" y="218.1" width="0.9" height="0.9" fill="#3a3a3a"/>
<rect x="421.3" y="220.7" width="0.9" height="0.9" fill="#3a3a3a"/>
<rect x="417.0" y="217.3" width="0.9" height="0.9" fill="#3a3a3a"/>
<rect x="424.5" y="210.4" width="0.9" height="0.9" fill="#3a3a3a"/>
<rect x="422.7" y="211.3" width="0.9" height="0.9" fill="#3a3a3a"/>
<rect x="422.0" y="214.3" width="0.9" height="0.9" fill="#3a3a3a"/>
<rect x="423.9" y="214.0" width="0.9" height="0.9" fill="#3a3a3a"/>
<rect x="421.6" y="214.0" width="0.9" height="0.9" fill="#3a3a3a"/>
<rect x="425.5" y="221.2" width="0.9" height="0.9" fill="#3a3a3a"/>
<rect x="428.5" y="218.7" width="0.9" height="0.9" fill="#3a3a3a"/>
<rect x="420.6" y="213.0" width="0.9" height="0.9" fill="#3a3a3a"/>
<rect x="421.9" y="211.6" width="0.9" height="0.9" fill="#3a3a3a"/>
<rect x="421.1" y="214.4" width="0.9" height="0.9" fill="#3a3a3a"/>
<rect x="435.0" y="213.9" width="0.9" height="0.9" fill="#3a3a3a"/>
<rect x="423.8" y="210.8" width="0.9" height="0.9" fill="#3a3a3a"/>
<rect x="419.3" y="210.3" width="0.9" height="0.9" fill="#3a3a3a"/>
<rect x="429.1" y="214.8" width="0.9" height="0.9" fill="#3a3a3a"/>
<rect x="424.8" y="213.6" width="0.9" height="0.9" fill="#3a3a3a"/>
<rect x="424.3" y="218.7" width="0.9" height="0.9" fill="#3a3a3a"/>
<rect x="419.5" y="214.3" width="0.9" height="0.9" fill="#3a3a3a"/>
<rect x="422.2" y="215.3" width="0.9" height="0.9" fill="#3a3a3a"/>
<rect x="419.0" y="215.5" width="0.9" height="0.9" fill="#3a3a3a"/>
<rect x="433.3" y="213.0" width="0.9" height="0.9" fill="#3a3a3a"/>
<rect x="426.4" y="217.6" width="0.9" height="0.9" fill="#3a3a3a"/>
<rect x="428.1" y="220.5" width="0.9" height="0.9" fill="#3a3a3a"/>
<rect x="419.3" y="211.2" width="0.9" height="0.9" fill="#3a3a3a"/>
<rect x="427.7" y="216.7" width="0.9" height="0.9" fill="#3a3a3a"/>
<rect x="429.0" y="219.4" width="0.9" height="0.9" fill="#3a3a3a"/>
<rect x="434.2" y="213.0" width="0.9" height="0.9" fill="#3a3a3a"/>
<rect x="427.2" y="216.1" width="0.9" height="0.9" fill="#3a3a3a"/>
<rect x="423.3" y="213.7" width="0.9" height="0.9" fill="#3a3a3a"/>
<rect x="423.4" y="220.1" width="0.9" height="0.9" fill="#3a3a3a"/>
<rect x="425.9" y="208.1" width="0.9" height="0.9" fill="#3a3a3a"/>
<rect x="427.4" y="215.1" width="0.9" height="0.9" fill="#3a3a3a"/>
<rect x="424.1" y="217.8" width="0.9" height="0.9" fill="#3a3a3a"/>
<rect x="422.8" y="215.0" width="0.9" height="0.9" fill="#3a3a3a"/>
<rect x="417.9" y="212.0" width="0.9" height="0.9" fill="#3a3a3a"/>
<rect x="421.7" y="219.1" width="0.9" height="0.9" fill="#3a3a3a"/>
<rect x="417.4" y="220.9" width="0.9" height="0.9" fill="#3a3a3a"/>
<rect x="445.0" y="217.0" width="0.9" height="0.9" fill="#3a3a3a"/>
<rect x="422.5" y="216.9" width="0.9" height="0.9" fill="#3a3a3a"/>
<rect x="438.5" y="216.8" width="0.9" height="0.9" fill="#3a3a3a"/>
<rect x="417.8" y="217.9" width="0.9" height="0.9" fill="#3a3a3a"/>
<rect x="418.1" y="215.3" width="0.9" height="0.9" fill="#3a3a3a"/>
<rect x="428.7" y="213.4" width="0.9" height="0.9" fill="#3a3a3a"/>
<rect x="433.6" y="218.2" width="0.9" height="0.9" fill="#3a3a3a"/>
<rect x="431.7" y="215.5" width="0.9" height="0.9" fill="#3a3a3a"/>
<rect x="419.7" y="215.0" width="0.9" height="0.9" fill="#3a3a3a"/>
<rect x="419.5" y="211.1" width="0.9" height="0.9" fill="#3a3a3a"/>
<rect x="421.0" y="215.1" width="0.9" height="0.9" fill="#3a3a3a"/>
<rect x="423.0" y="216.9" width="0.9" height="0.9" fill="#3a3a3a"/>
<rect x="421.0" y="212.4" width="0.9" height="0.9" fill="#3a3a3a"/>
<rect x="420.6" y="214.7" width="0.9" height="0.9" fill="#3a3a3a"/>
<rect x="438.7" y="214.9" width="0.9" height="0.9" fill="#3a3a3a"/>
<rect x="419.5" y="212.1" width="0.9" height="0.9" fill="#3a3a3a"/>
<rect x="417.2" y="219.9" width="0.9" height="0.9" fill="#3a3a3a"/>
<rect x="423.0" y="217.9" width="0.9" height="0.9" fill="#3a3a3a"/>
<rect x="417.7" y="215.4" width="0.9" height="0.9" fill="#3a3a3a"/>
<rect x="441.1" y="217.6" width="0.9" height="0.9" fill="#3a3a3a"/>
<rect x="435.6" y="212.2" width="0.9" height="0.9" fill="#3a3a3a"/>
<rect x="425.0" y="209.5" width="0.9" height="0.9" fill="#3a3a3a"/>
<rect x="419.6" y="221.6" width="0.9" height="0.9" fill="#3a3a3a"/>
<rect x="419.8" y="215.4" width="0.9" height="0.9" fill="#3a3a3a"/>
<rect x="422.3" y="227.0" width="0.9" height="0.9" fill="#3a3a3a"/>
<rect x="423.0" y="217.3" width="0.9" height="0.9" fill="#3a3a3a"/>
<rect x="423.0" y="222.2" width="0.9" height="0.9" fill="#3a3a3a"/>
<rect x="417.7" y="216.9" width="0.9" height="0.9" fill="#3a3a3a"/>
<rect x="425.7" y="212.5" width="0.9" height="0.9" fill="#3a3a3a"/>
<rect x="433.7" y="211.7" width="0.9" height="0.9" fill="#3a3a3a"/>
<rect x="419.3" y="211.8" width="0.9" height="0.9" fill="#3a3a3a"/>
<rect x="445.5" y="212.1" width="0.9" height="0.9" fill="#3a3a3a"/>
<rect x="423.8" y="215.1" width="0.9" height="0.9" fill="#3a3a3a"/>
<rect x="420.4" y="218.9" width="0.9" height="0.9" fill="#3a3a3a"/>
<rect x="419.1" y="219.2" width="0.9" height="0.9" fill="#3a3a3a"/>
<rect x="432.4" y="215.0" width="0.9" height="0.9" fill="#3a3a3a"/>
<rect x="422.7" y="212.3" width="0.9" height="0.9" fill="#3a3a3a"/>
<rect x="441.9" y="214.2" width="0.9" height="0.9" fill="#3a3a3a"/>
<rect x="422.9" y="218.5" width="0.9" height="0.9" fill="#3a3a3a"/>
<rect x="419.3" y="215.6" width="0.9" height="0.9" fill="#3a3a3a"/>
<rect x="425.4" y="222.9" width="0.9" height="0.9" fill="#3a3a3a"/>
<rect x="426.0" y="215.2" width="0.9" height="0.9" fill="#3a3a3a"/>
<rect x="421.4" y="213.5" width="0.9" height="0.9" fill="#3a3a3a"/>
<rect x="417.6" y="218.9" width="0.9" height="0.9" fill="#3a3a3a"/>
<rect x="424.7" y="215.3" width="0.9" height="0.9" fill="#3a3a3a"/>
<rect x="424.9" y="219.1" width="0.9" height="0.9" fill="#3a3a3a"/>
<rect x="439.2" y="219.8" width="0.9" height="0.9" fill="#3a3a3a"/>
<rect x="438.0" y="217.5" width="0.9" height="0.9" fill="#3a3a3a"/>
<rect x="422.0" y="216.9" width="0.9" height="0.9" fill="#3a3a3a"/>
<rect x="424.6" y="220.7" width="0.9" height="0.9" fill="#3a3a3a"/>
<rect x="431.2" y="219.2" width="0.9" height="0.9" fill="#3a3a3a"/>
<rect x="419.4" y="216.1" width="0.9" height="0.9" fill="#3a3a3a"/>
<rect x="417.7" y="213.6" width="0.9" height="0.9" fill="#3a3a3a"/>
<rect x="434.3" y="218.4" width="0.9" height="0.9" fill="#3a3a3a"/>
<rect x="419.5" y="219.5" width="0.9" height="0.9" fill="#3a3a3a"/>
<rect x="420.7" y="211.4" width="0.9" height="0.9" fill="#3a3a3a"/>
<rect x="428.0" y="212.0" width="0.9" height="0.9" fill="#3a3a3a"/>
<rect x="430.7" y="208.9" width="0.9" height="0.9" fill="#3a3a3a"/>
<rect x="423.3" y="220.7" width="0.9" height="0.9" fill="#3a3a3a"/>
<rect x="418.5" y="217.6" width="0.9" height="0.9" fill="#3a3a3a"/>
<rect x="427.0" y="222.7" width="0.9" height="0.9" fill="#3a3a3a"/>
<rect x="421.7" y="210.6" width="0.9" height="0.9" fill="#3a3a3a"/>
<rect x="440.9" y="219.3" width="0.9" height="0.9" fill="#3a3a3a"/>
<rect x="425.0" y="219.1" width="0.9" height="0.9" fill="#3a3a3a"/>
<rect x="419.6" y="220.0" width="0.9" height="0.9" fill="#3a3a3a"/>
<rect x="424.6" y="210.4" width="0.9" height="0.9" fill="#3a3a3a"/>
<rect x="417.7" y="207.6" width="0.9" height="0.9" fill="#3a3a3a"/>
<rect x="418.9" y="219.8" width="0.9" height="0.9" fill="#3a3a3a"/>
<rect x="420.3" y="213.3" width="0.9" height="0.9" fill="#3a3a3a"/>
<rect x="420.9" y="206.1" width="0.9" height="0.9" fill="#3a3a3a"/>
<rect x="427.5" y="217.4" width="0.9" height="0.9" fill="#3a3a3a"/>
<rect x="428.5" y="221.6" width="0.9" height="0.9" fill="#3a3a3a"/>
<rect x="420.5" y="212.3" width="0.9" height="0.9" fill="#3a3a3a"/>
<rect x="418.7" y="219.1" width="0.9" height="0.9" fill="#3a3a3a"/>
<rect x="429.8" y="212.8" width="0.9" height="0.9" fill="#3a3a3a"/>
<rect x="425.9" y="215.6" width="0.9" height="0.9" fill="#3a3a3a"/>
<rect x="417.4" y="216.2" width="0.9" height="0.9" fill="#3a3a3a"/>
<rect x="422.3" y="217.8" width="0.9" height="0.9" fill="#3a3a3a"/>
<rect x="423.3" y="213.7" width="0.9" height="0.9" fill="#3a3a3a"/>
<rect x="417.9" y="215.6" width="0.9" height="0.9" fill="#3a3a3a"/>
<rect x="418.2" y="216.7" width="0.9" height="0.9" fill="#3a3a3a"/>
<rect x="417.4" y="221.4" width="0.9" height="0.9" fill="#3a3a3a"/>
<rect x="424.7" y="218.5" width="0.9" height="0.9" fill="#3a3a3a"/>
<rect x="428.4" y="218.4" width="0.9" height="0.9" fill="#3a3a3a"/>
<rect x="426.3" y="215.6" width="0.9" height="0.9" fill="#3a3a3a"/>
<rect x="417.1" y="215.1" width="0.9" height="0.9" fill="#3a3a3a"/>
<rect x="420.5" y="216.3" width="0.9" height="0.9" fill="#3a3a3a"/>
<rect x="435.2" y="219.6" width="0.9" height="0.9" fill="#3a3a3a"/>
<rect x="425.5" y="216.2" width="0.9" height="0.9" fill="#3a3a3a"/>
<rect x="431.5" y="218.8" width="0.9" height="0.9" fill="#3a3a3a"/>
<rect x="431.3" y="221.9" width="0.9" height="0.9" fill="#3a3a3a"/>
<rect x="417.8" y="210.8" width="0.9" height="0.9" fill="#3a3a3a"/>
<rect x="421.6" y="222.3" width="0.9" height="0.9" fill="#3a3a3a"/>
<rect x="417.2" y="212.8" width="0.9" height="0.9" fill="#3a3a3a"/>
<rect x="420.4" y="213.7" width="0.9" height="0.9" fill="#3a3a3a"/>
<rect x="421.8" y="212.9" width="0.9" height="0.9" fill="#3a3a3a"/>
<rect x="428.1" y="216.6" width="0.9" height="0.9" fill="#3a3a3a"/>
<rect x="417.2" y="213.7" width="0.9" height="0.9" fill="#3a3a3a"/>
<rect x="419.1" y="208.7" width="0.9" height="0.9" fill="#3a3a3a"/>
<rect x="421.0" y="214.2" width="0.9" height="0.9" fill="#3a3a3a"/>
<rect x="421.0" y="212.5" width="0.9" height="0.9" fill="#3a3a3a"/>
<rect x="435.1" y="220.0" width="0.9" height="0.9" fill="#3a3a3a"/>
<rect x="418.5" y="220.2" width="0.9" height="0.9" fill="#3a3a3a"/>
<rect x="419.4" y="215.0" width="0.9" height="0.9" fill="#3a3a3a"/>
<rect x="425.7" y="217.1" width="0.9" height="0.9" fill="#3a3a3a"/>
<rect x="417.3" y="211.7" width="0.9" height="0.9" fill="#3a3a3a"/>
<rect x="426.4" y="212.9" width="0.9" height="0.9" fill="#3a3a3a"/>
<rect x="428.0" y="211.8" width="0.9" height="0.9" fill="#3a3a3a"/>
<rect x="424.4" y="212.7" width="0.9" height="0.9" fill="#3a3a3a"/>
<rect x="419.9" y="218.9" width="0.9" height="0.9" fill="#3a3a3a"/>
<rect x="419.6" y="214.0" width="0.9" height="0.9" fill="#3a3a3a"/>
<rect x="431.9" y="214.9" width="0.9" height="0.9" fill="#3a3a3a"/>
<rect x="421.6" y="219.6" width="0.9" height="0.9" fill="#3a3a3a"/>
<rect x="418.2" y="213.6" width="0.9" height="0.9" fill="#3a3a3a"/>
<rect x="424.1" y="217.2" width="0.9" height="0.9" fill="#3a3a3a"/>
<rect x="419.7" y="221.5" width="0.9" height="0.9" fill="#3a3a3a"/>
<rect x="425.4" y="214.9" width="0.9" height="0.9" fill="#3a3a3a"/>
<rect x="435.4" y="207.7" width="0.9" height="0.9" fill="#3a3a3a"/>
<rect x="434.4" y="216.3" width="0.9" height="0.9" fill="#3a3a3a"/>
<rect x="420.9" y="211.2" width="0.9" height="0.9" fill="#3a3a3a"/>
<rect x="428.1" y="208.8" width="0.9" height="0.9" fill="#3a3a3a"/>
<rect x="419.2" y="218.1" width="0.9" height="0.9" fill="#3a3a3a"/>
<rect x="438.9" y="218.4" width="0.9" height="0.9" fill="#3a3a3a"/>
<rect x="424.4" y="206.2" width="0.8" height="0.8" fill="#777"/>
<rect x="417.9" y="202.3" width="0.8" height="0.8" fill="#777"/>
<rect x="417.5" y="206.7" width="0.8" height="0.8" fill="#777"/>
<rect x="449.0" y="202.7" width="0.8" height="0.8" fill="#777"/>
<rect x="429.3" y="189.3" width="0.8" height="0.8" fill="#777"/>
<rect x="430.2" y="209.7" width="0.8" height="0.8" fill="#777"/>
<rect x="430.1" y="202.2" width="0.8" height="0.8" fill="#777"/>
<rect x="447.1" y="183.4" width="0.8" height="0.8" fill="#777"/>
<rect x="417.7" y="203.8" width="0.8" height="0.8" fill="#777"/>
<rect x="425.5" y="193.1" width="0.8" height="0.8" fill="#777"/>
<rect x="428.4" y="195.3" width="0.8" height="0.8" fill="#777"/>
<rect x="426.8" y="208.9" width="0.8" height="0.8" fill="#777"/>
<rect x="434.5" y="211.9" width="0.8" height="0.8" fill="#777"/>
<rect x="444.7" y="196.8" width="0.8" height="0.8" fill="#777"/>
<rect x="449.7" y="205.6" width="0.8" height="0.8" fill="#777"/>
<rect x="450.4" y="186.6" width="0.8" height="0.8" fill="#777"/>
<rect x="427.5" y="185.2" width="0.8" height="0.8" fill="#777"/>
<rect x="417.1" y="208.7" width="0.8" height="0.8" fill="#777"/>
<rect x="425.7" y="192.1" width="0.8" height="0.8" fill="#777"/>
<rect x="438.4" y="211.2" width="0.8" height="0.8" fill="#777"/>
<rect x="424.4" y="184.1" width="0.8" height="0.8" fill="#777"/>
<rect x="444.4" y="208.0" width="0.8" height="0.8" fill="#777"/>
<rect x="442.7" y="183.9" width="0.8" height="0.8" fill="#777"/>
<rect x="444.1" y="195.7" width="0.8" height="0.8" fill="#777"/>
<rect x="432.2" y="186.7" width="0.8" height="0.8" fill="#777"/>
<rect x="449.8" y="203.1" width="0.8" height="0.8" fill="#777"/>
<rect x="445.2" y="187.1" width="0.8" height="0.8" fill="#777"/>
<rect x="448.9" y="186.5" width="0.8" height="0.8" fill="#777"/>
<rect x="427.6" y="197.6" width="0.8" height="0.8" fill="#777"/>
<rect x="429.3" y="205.0" width="0.8" height="0.8" fill="#777"/>
<rect x="433.3" y="194.4" width="0.8" height="0.8" fill="#777"/>
<rect x="431.5" y="201.8" width="0.8" height="0.8" fill="#777"/>
<rect x="440.3" y="194.4" width="0.8" height="0.8" fill="#777"/>
<rect x="428.7" y="209.3" width="0.8" height="0.8" fill="#777"/>
<rect x="437.5" y="188.5" width="0.8" height="0.8" fill="#777"/>
<rect x="439.0" y="183.0" width="0.8" height="0.8" fill="#777"/>
<rect x="421.7" y="200.4" width="0.8" height="0.8" fill="#777"/>
<rect x="437.1" y="203.5" width="0.8" height="0.8" fill="#777"/>
<rect x="442.5" y="183.9" width="0.8" height="0.8" fill="#777"/>
<rect x="448.3" y="184.4" width="0.8" height="0.8" fill="#777"/>
</g>
<line x1="415.5" y1="148.9" x2="415.5" y2="233.0" stroke="#555" stroke-width="0.9"/>
<line x1="381.6" y1="206.4" x2="476.4" y2="206.4" stroke="#555" stroke-width="0.9"/>
<rect x="381.6" y="148.9" width="94.8" height="84.1" fill="none" stroke="#333" stroke-width="1.0"/>
<line x1="375.3" y1="171.4" x2="381.6" y2="171.4" stroke="#1a1a1a" stroke-width="1.3"/>
<line x1="375.3" y1="192.7" x2="381.6" y2="192.7" stroke="#1a1a1a" stroke-width="1.3"/>
<line x1="375.3" y1="215.5" x2="381.6" y2="215.5" stroke="#1a1a1a" stroke-width="1.3"/>
<line x1="375.3" y1="224.0" x2="381.6" y2="224.0" stroke="#1a1a1a" stroke-width="1.3"/>
<line x1="378.4" y1="165.0" x2="381.6" y2="165.0" stroke="#222" stroke-width="0.9"/>
<line x1="378.4" y1="161.3" x2="381.6" y2="161.3" stroke="#222" stroke-width="0.9"/>
<line x1="378.4" y1="158.6" x2="381.6" y2="158.6" stroke="#222" stroke-width="0.9"/>
<line x1="378.4" y1="156.6" x2="381.6" y2="156.6" stroke="#222" stroke-width="0.9"/>
<line x1="378.4" y1="154.9" x2="381.6" y2="154.9" stroke="#222" stroke-width="0.9"/>
<line x1="378.4" y1="153.5" x2="381.6" y2="153.5" stroke="#222" stroke-width="0.9"/>
<line x1="378.4" y1="152.3" x2="381.6" y2="152.3" stroke="#222" stroke-width="0.9"/>
<line x1="378.4" y1="151.2" x2="381.6" y2="151.2" stroke="#222" stroke-width="0.9"/>
<line x1="378.4" y1="186.3" x2="381.6" y2="186.3" stroke="#222" stroke-width="0.9"/>
<line x1="378.4" y1="182.6" x2="381.6" y2="182.6" stroke="#222" stroke-width="0.9"/>
<line x1="378.4" y1="179.9" x2="381.6" y2="179.9" stroke="#222" stroke-width="0.9"/>
<line x1="378.4" y1="177.9" x2="381.6" y2="177.9" stroke="#222" stroke-width="0.9"/>
<line x1="378.4" y1="176.2" x2="381.6" y2="176.2" stroke="#222" stroke-width="0.9"/>
<line x1="378.4" y1="174.8" x2="381.6" y2="174.8" stroke="#222" stroke-width="0.9"/>
<line x1="378.4" y1="173.6" x2="381.6" y2="173.6" stroke="#222" stroke-width="0.9"/>
<line x1="378.4" y1="172.5" x2="381.6" y2="172.5" stroke="#222" stroke-width="0.9"/>
<line x1="378.4" y1="208.6" x2="381.6" y2="208.6" stroke="#222" stroke-width="0.9"/>
<line x1="378.4" y1="204.6" x2="381.6" y2="204.6" stroke="#222" stroke-width="0.9"/>
<line x1="378.4" y1="201.8" x2="381.6" y2="201.8" stroke="#222" stroke-width="0.9"/>
<line x1="378.4" y1="199.6" x2="381.6" y2="199.6" stroke="#222" stroke-width="0.9"/>
<line x1="378.4" y1="197.8" x2="381.6" y2="197.8" stroke="#222" stroke-width="0.9"/>
<line x1="378.4" y1="196.2" x2="381.6" y2="196.2" stroke="#222" stroke-width="0.9"/>
<line x1="378.4" y1="194.9" x2="381.6" y2="194.9" stroke="#222" stroke-width="0.9"/>
<line x1="378.4" y1="193.7" x2="381.6" y2="193.7" stroke="#222" stroke-width="0.9"/>
<line x1="378.2" y1="216.8" x2="381.6" y2="216.8" stroke="#1a1a1a" stroke-width="0.9"/>
<line x1="378.2" y1="218.5" x2="381.6" y2="218.5" stroke="#1a1a1a" stroke-width="0.9"/>
<line x1="378.2" y1="220.2" x2="381.6" y2="220.2" stroke="#1a1a1a" stroke-width="0.9"/>
<line x1="378.2" y1="221.9" x2="381.6" y2="221.9" stroke="#1a1a1a" stroke-width="0.9"/>
<line x1="378.2" y1="223.6" x2="381.6" y2="223.6" stroke="#1a1a1a" stroke-width="0.9"/>
<line x1="378.2" y1="225.3" x2="381.6" y2="225.3" stroke="#1a1a1a" stroke-width="0.9"/>
<line x1="378.2" y1="227.0" x2="381.6" y2="227.0" stroke="#1a1a1a" stroke-width="0.9"/>
<line x1="378.2" y1="228.7" x2="381.6" y2="228.7" stroke="#1a1a1a" stroke-width="0.9"/>
<line x1="378.2" y1="230.4" x2="381.6" y2="230.4" stroke="#1a1a1a" stroke-width="0.9"/>
<line x1="378.2" y1="232.1" x2="381.6" y2="232.1" stroke="#1a1a1a" stroke-width="0.9"/>
<line x1="386.0" y1="233.0" x2="386.0" y2="238.0" stroke="#1a1a1a" stroke-width="1.2"/>
<line x1="403.0" y1="233.0" x2="403.0" y2="238.0" stroke="#1a1a1a" stroke-width="1.2"/>
<line x1="428.5" y1="233.0" x2="428.5" y2="238.0" stroke="#1a1a1a" stroke-width="1.2"/>
<line x1="452.0" y1="233.0" x2="452.0" y2="238.0" stroke="#1a1a1a" stroke-width="1.2"/>
<line x1="410.7" y1="233.0" x2="410.7" y2="236.2" stroke="#222" stroke-width="0.9"/>
<line x1="415.2" y1="233.0" x2="415.2" y2="236.2" stroke="#222" stroke-width="0.9"/>
<line x1="418.4" y1="233.0" x2="418.4" y2="236.2" stroke="#222" stroke-width="0.9"/>
<line x1="420.8" y1="233.0" x2="420.8" y2="236.2" stroke="#222" stroke-width="0.9"/>
<line x1="422.8" y1="233.0" x2="422.8" y2="236.2" stroke="#222" stroke-width="0.9"/>
<line x1="424.6" y1="233.0" x2="424.6" y2="236.2" stroke="#222" stroke-width="0.9"/>
<line x1="426.0" y1="233.0" x2="426.0" y2="236.2" stroke="#222" stroke-width="0.9"/>
<line x1="427.3" y1="233.0" x2="427.3" y2="236.2" stroke="#222" stroke-width="0.9"/>
<line x1="435.6" y1="233.0" x2="435.6" y2="236.2" stroke="#222" stroke-width="0.9"/>
<line x1="439.7" y1="233.0" x2="439.7" y2="236.2" stroke="#222" stroke-width="0.9"/>
<line x1="442.6" y1="233.0" x2="442.6" y2="236.2" stroke="#222" stroke-width="0.9"/>
<line x1="444.9" y1="233.0" x2="444.9" y2="236.2" stroke="#222" stroke-width="0.9"/>
<line x1="446.8" y1="233.0" x2="446.8" y2="236.2" stroke="#222" stroke-width="0.9"/>
<line x1="448.4" y1="233.0" x2="448.4" y2="236.2" stroke="#222" stroke-width="0.9"/>
<line x1="449.7" y1="233.0" x2="449.7" y2="236.2" stroke="#222" stroke-width="0.9"/>
<line x1="450.9" y1="233.0" x2="450.9" y2="236.2" stroke="#222" stroke-width="0.9"/>
<line x1="459.1" y1="233.0" x2="459.1" y2="236.2" stroke="#222" stroke-width="0.9"/>
<line x1="463.2" y1="233.0" x2="463.2" y2="236.2" stroke="#222" stroke-width="0.9"/>
<line x1="466.1" y1="233.0" x2="466.1" y2="236.2" stroke="#222" stroke-width="0.9"/>
<line x1="468.4" y1="233.0" x2="468.4" y2="236.2" stroke="#222" stroke-width="0.9"/>
<line x1="470.3" y1="233.0" x2="470.3" y2="236.2" stroke="#222" stroke-width="0.9"/>
<line x1="471.9" y1="233.0" x2="471.9" y2="236.2" stroke="#222" stroke-width="0.9"/>
<line x1="473.2" y1="233.0" x2="473.2" y2="236.2" stroke="#222" stroke-width="0.9"/>
<line x1="474.4" y1="233.0" x2="474.4" y2="236.2" stroke="#222" stroke-width="0.9"/>
<line x1="382.1" y1="233.0" x2="382.1" y2="236.4" stroke="#1a1a1a" stroke-width="0.9"/>
<line x1="383.8" y1="233.0" x2="383.8" y2="236.4" stroke="#1a1a1a" stroke-width="0.9"/>
<line x1="385.5" y1="233.0" x2="385.5" y2="236.4" stroke="#1a1a1a" stroke-width="0.9"/>
<line x1="387.2" y1="233.0" x2="387.2" y2="236.4" stroke="#1a1a1a" stroke-width="0.9"/>
<line x1="388.9" y1="233.0" x2="388.9" y2="236.4" stroke="#1a1a1a" stroke-width="0.9"/>
<line x1="390.6" y1="233.0" x2="390.6" y2="236.4" stroke="#1a1a1a" stroke-width="0.9"/>
<line x1="392.3" y1="233.0" x2="392.3" y2="236.4" stroke="#1a1a1a" stroke-width="0.9"/>
<line x1="394.0" y1="233.0" x2="394.0" y2="236.4" stroke="#1a1a1a" stroke-width="0.9"/>
<line x1="395.7" y1="233.0" x2="395.7" y2="236.4" stroke="#1a1a1a" stroke-width="0.9"/>
<line x1="397.4" y1="233.0" x2="397.4" y2="236.4" stroke="#1a1a1a" stroke-width="0.9"/>
<line x1="399.1" y1="233.0" x2="399.1" y2="236.4" stroke="#1a1a1a" stroke-width="0.9"/>
<line x1="400.8" y1="233.0" x2="400.8" y2="236.4" stroke="#1a1a1a" stroke-width="0.9"/>
<text x="382.3" y="156.7" font-size="7.5" text-anchor="start" class="dj" stroke-width="0.3">Q5</text>
<text x="382.3" y="165.6" font-size="7.8" text-anchor="start" class="dj" stroke-width="0.3">23.9%</text>
<text x="444.5" y="156.7" font-size="7.5" text-anchor="start" class="dj" stroke-width="0.3">Q6</text>
<text x="443.7" y="169.3" font-size="8.8" text-anchor="start" class="dj" fill="#333" stroke-width="0.1">1.2%</text>
<text x="382.3" y="222.7" font-size="7.5" text-anchor="start" class="dj" stroke-width="0.3">Q8</text>
<text x="382.3" y="231.9" font-size="7.8" text-anchor="start" class="dj" stroke-width="0.3">71.5%</text>
<text x="449.0" y="222.7" font-size="7.5" text-anchor="start" class="dj" stroke-width="0.3">Q7</text>
<text x="475.8" y="231.9" font-size="7.8" text-anchor="end" class="dj" stroke-width="0.3">3.44%</text>
<text x="353.2" y="176.3" font-size="8.3" class="djb" stroke-width="0.25">10<tspan dx="1.1" dy="-5.6" font-size="8.3">3</tspan></text>
<text x="353.2" y="197.5" font-size="8.3" class="djb" stroke-width="0.25">10<tspan dx="1.1" dy="-5.6" font-size="8.3">2</tspan></text>
<text x="353.2" y="220.1" font-size="8.3" class="djb" stroke-width="0.25">10<tspan dx="1.1" dy="-5.6" font-size="8.3">1</tspan></text>
<text x="360.4" y="228.5" font-size="8.3" text-anchor="start" class="djb">0</text>
<text x="383.4" y="256.5" font-size="8.3" text-anchor="start" class="djb">0</text>
<text x="397.4" y="256.5" font-size="8.3" class="djb" stroke-width="0.25">10<tspan dx="1.1" dy="-5.6" font-size="8.3">1</tspan></text>
<text x="423" y="256.5" font-size="8.3" class="djb" stroke-width="0.25">10<tspan dx="1.1" dy="-5.6" font-size="8.3">2</tspan></text>
<text x="447.2" y="256.5" font-size="8.3" class="djb" stroke-width="0.25">10<tspan dx="1.1" dy="-5.6" font-size="8.3">3</tspan></text>
</g>
</g>
</svg></body></html>
